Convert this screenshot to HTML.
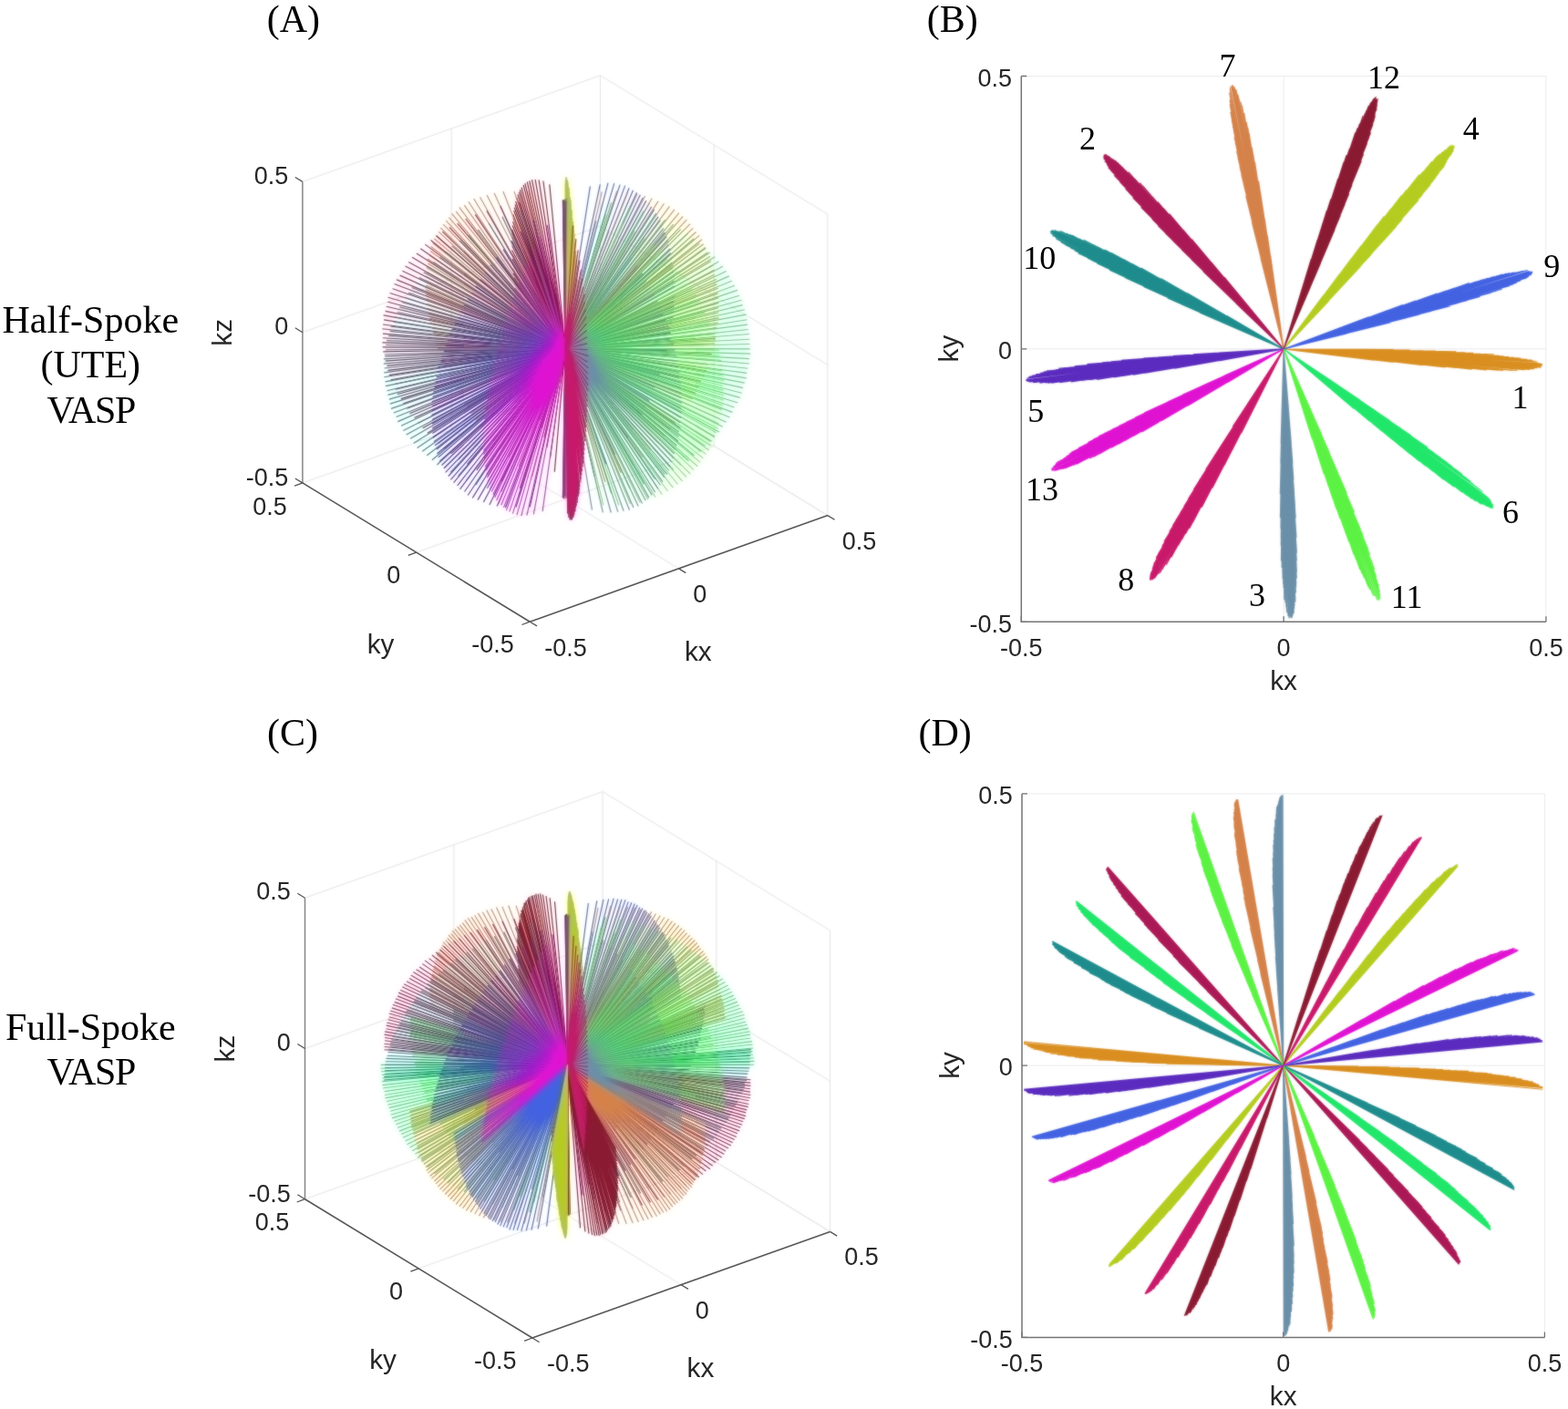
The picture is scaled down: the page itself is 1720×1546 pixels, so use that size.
<!DOCTYPE html>
<html lang="en"><head><meta charset="utf-8"><title>Half-Spoke and Full-Spoke VASP k-space trajectories</title>
<style>
html,body{margin:0;padding:0;background:#fff}
svg{display:block}
text{font-family:"Liberation Sans",sans-serif;fill:#262626}
.tl{font-size:27px}
.al{font-size:29.7px}
.pl,.rl{font-family:"Liberation Serif",serif;font-size:42px;fill:#000}
.num{font-family:"Liberation Serif",serif;font-size:36px;fill:#000}
path{fill:none}
.sp3 path.grid{stroke:#e1e1e1;stroke-width:1}
.grid2{stroke:#ebecf0;stroke-width:1}
.axz{stroke:#858585;stroke-width:1.5}
.ax3{stroke:#585858;stroke-width:1.6}
.tk3{stroke:#555;stroke-width:1.3}
.ax2{stroke:#747474;stroke-width:1.5}
.tk2{stroke:#747474;stroke-width:1.3}
.sp3 path{stroke-width:1.15}
.sp2 path{stroke-width:1.1}
</style></head><body>
<svg width="1720" height="1546" viewBox="0 0 1720 1546">
<rect width="1720" height="1546" fill="#fff"/>
<defs><filter id="jpA" filterUnits="userSpaceOnUse" x="320" y="72" width="600" height="620" color-interpolation-filters="sRGB"><feGaussianBlur in="SourceGraphic" stdDeviation="3.0" result="b"/><feColorMatrix in="b" type="matrix" values="0.3505 -0.2935 -0.057 0 0.5 -0.1495 0.2065 -0.057 0 0.5 -0.1495 -0.2935 0.443 0 0.5 0 0 0 0 1" result="u"/><feGaussianBlur in="SourceGraphic" stdDeviation="0.8" result="s1"/><feComposite in="SourceGraphic" in2="s1" operator="arithmetic" k1="0" k2="0.5" k3="0.5" k4="0" result="s"/><feColorMatrix in="s" type="matrix" values="0.299 0.587 0.114 0 0 0.299 0.587 0.114 0 0 0.299 0.587 0.114 0 0 0 0 0 0 1" result="v"/><feComposite in="u" in2="v" operator="arithmetic" k1="0" k2="2" k3="1" k4="-1"/></filter><filter id="jpC" filterUnits="userSpaceOnUse" x="322.6" y="857.8" width="600" height="620" color-interpolation-filters="sRGB"><feGaussianBlur in="SourceGraphic" stdDeviation="3.0" result="b"/><feColorMatrix in="b" type="matrix" values="0.3505 -0.2935 -0.057 0 0.5 -0.1495 0.2065 -0.057 0 0.5 -0.1495 -0.2935 0.443 0 0.5 0 0 0 0 1" result="u"/><feGaussianBlur in="SourceGraphic" stdDeviation="0.8" result="s1"/><feComposite in="SourceGraphic" in2="s1" operator="arithmetic" k1="0" k2="0.5" k3="0.5" k4="0" result="s"/><feColorMatrix in="s" type="matrix" values="0.299 0.587 0.114 0 0 0.299 0.587 0.114 0 0 0.299 0.587 0.114 0 0 0 0 0 0 1" result="v"/><feComposite in="u" in2="v" operator="arithmetic" k1="0" k2="2" k3="1" k4="-1"/></filter><filter id="b2" x="-5%" y="-5%" width="110%" height="110%" color-interpolation-filters="sRGB"><feGaussianBlur stdDeviation="0.8" result="b"/><feComposite in="SourceGraphic" in2="b" operator="arithmetic" k1="0" k2="0.5" k3="0.5" k4="0"/></filter></defs>
<text class="pl" x="292.7" y="34.7">(A)</text>
<text class="pl" x="1016.8" y="34.7">(B)</text>
<text class="pl" x="292.9" y="818.4">(C)</text>
<text class="pl" x="1007.5" y="818.4">(D)</text>
<text class="rl" x="99.3" y="364.9" text-anchor="middle">Half-Spoke</text>
<text class="rl" x="99.3" y="414.4" text-anchor="middle">(UTE)</text>
<text class="rl" x="99.8" y="463.9" text-anchor="middle" letter-spacing="-1.3">VASP</text>
<text class="rl" x="99.3" y="1140.7" text-anchor="middle">Full-Spoke</text>
<text class="rl" x="99.8" y="1190.2" text-anchor="middle" letter-spacing="-1.3">VASP</text>
<g class="sp3" filter="url(#jpA)">
<rect x="310" y="62" width="620" height="640" fill="#fff"/>
<path class="grid" d="M331.9,529.9L658.5,413.3M658.5,413.3L907.9,565.6M331.9,364.7L658.5,248.1M658.5,248.1L907.9,400.4M331.9,199.4L658.5,82.8M658.5,82.8L907.9,235.1M495.2,471.6L495.2,141.1M744.6,623.9L495.2,471.6M658.5,413.3L658.5,82.8M907.9,565.6L658.5,413.3M783.2,489.5L783.2,159M907.9,565.6L907.9,235.1M456.6,606.1L783.2,489.5"/>
<path stroke="#B4CC1F" d="M619.9,382.5l0,-164.2M619.9,382.5l0.2,-181.6M619.9,382.5l0.5,-185.4M619.9,382.5l0.9,-187.9M619.9,382.5l1.1,-188.1M619.9,382.5l1.5,-188.3M619.9,382.5l1.6,-188M619.9,382.5l1.9,-185.8M619.9,382.5l2.7,-184.8M619.9,382.5l3.2,-182.5M619.9,382.5l3.3,-180M619.9,382.5l3.8,-177.5M619.9,382.5l4.4,-175.9M619.9,382.5l4.7,-172.2M619.9,382.5l4.8,-169.8M619.9,382.5l5.7,-166M619.9,382.5l6.2,-163M619.9,382.5l6.5,-159.4M619.9,382.5l6.7,-155.1M619.9,382.5l7.6,-151.9M619.9,382.5l7.5,-147.3M619.9,382.5l8,-143.3M619.9,382.5l8.9,-139.6M619.9,382.5l9.5,-135.1M619.9,382.5l9.7,-130.4M619.9,382.5l10.4,-126.2M619.9,382.5l10.5,-121.6M619.9,382.5l11.3,-116.8M619.9,382.5l11,-112.3M619.9,382.5l11.9,-107.3M619.9,382.5l12.3,-102.3M619.9,382.5l12.9,-96.8M619.9,382.5l12.8,-91.9M619.9,382.5l13.8,-86.9M619.9,382.5l13.6,-81.1M619.9,382.5l14,-75.9M619.9,382.5l14.4,-70.3M619.9,382.5l15.1,-64.6M619.9,382.5l14.9,-58.7M619.9,382.5l15.3,-53M619.9,382.5l15,-46.8M619.9,382.5l15.3,-40.8M619.9,382.5l15.7,-34.5M619.9,382.5l16.1,-28.3M619.9,382.5l16.5,-21.9M619.9,382.5l16,-15.4M619.9,382.5l16.2,-8.6M619.9,382.5l16.3,-1.8M619.9,382.5l16.2,5.1M619.9,382.5l16.4,12.3M619.9,382.5l16,19.6M619.9,382.5l15.9,27M619.9,382.5l15.8,34.6M619.9,382.5l15.2,42.5M619.9,382.5l14.8,50.6M619.9,382.5l14.6,58.9M619.9,382.5l14.1,67.8M619.9,382.5l13.3,76.8M619.9,382.5l12.1,86.1M619.9,382.5l11.4,96.7M619.9,382.5l10.2,107.9M619.9,382.5l8.3,120M619.9,382.5l6.2,134.3M619.9,382.5l0.3,161.7"/>
<path stroke="#8A1A32" d="M619.9,382.5l-0.9,-163.8M619.9,382.5l-17.1,-180.2M619.9,382.5l-24,-184M619.9,382.5l-28.8,-185.2M619.9,382.5l-32.8,-185.7M619.9,382.5l-36.4,-185.4M619.9,382.5l-39.1,-184.1M619.9,382.5l-41.6,-183.1M619.9,382.5l-44,-181.3M619.9,382.5l-45.8,-179.7M619.9,382.5l-47.9,-176.9M619.9,382.5l-49.4,-174.3M619.9,382.5l-50.6,-171.8M619.9,382.5l-51.9,-169.1M619.9,382.5l-53.1,-165.8M619.9,382.5l-54.3,-161.6M619.9,382.5l-54.9,-158.1M619.9,382.5l-55.6,-154.8M619.9,382.5l-56.2,-151.4M619.9,382.5l-57.2,-147.4M619.9,382.5l-56.9,-143.3M619.9,382.5l-57.4,-139.2M619.9,382.5l-57.7,-135.1M619.9,382.5l-58.3,-130.8M619.9,382.5l-58.4,-127M619.9,382.5l-58.2,-122.2M619.9,382.5l-58.1,-117.4M619.9,382.5l-58.2,-112.7M619.9,382.5l-58.4,-108.1M619.9,382.5l-58,-103.2M619.9,382.5l-57.8,-98.4M619.9,382.5l-57.7,-93.1M619.9,382.5l-57.8,-88.3M619.9,382.5l-56.8,-82.7M619.9,382.5l-56,-77.6M619.9,382.5l-55.7,-72.6M619.9,382.5l-55.3,-66.7M619.9,382.5l-54.7,-61.3M619.9,382.5l-53.6,-55.4M619.9,382.5l-53,-49.7M619.9,382.5l-52,-43.8M619.9,382.5l-51.8,-37.8M619.9,382.5l-50.4,-31.6M619.9,382.5l-49.4,-25.6M619.9,382.5l-48.6,-19.2M619.9,382.5l-47.2,-12.7M619.9,382.5l-46.5,-6.1M619.9,382.5l-44.8,0.6M619.9,382.5l-43.7,7.5M619.9,382.5l-42.2,14.4M619.9,382.5l-41.3,21.7M619.9,382.5l-39.4,29M619.9,382.5l-37.6,36.5M619.9,382.5l-36.2,44.3M619.9,382.5l-34.8,52.5M619.9,382.5l-32.5,60.4M619.9,382.5l-30.4,69.2M619.9,382.5l-28.2,78.1M619.9,382.5l-25.8,87.7M619.9,382.5l-22.9,97.3M619.9,382.5l-20.1,108.7M619.9,382.5l-16.4,120.2M619.9,382.5l-11.6,135.3M619.9,382.5l-0.6,162"/>
<path stroke="#4262E2" d="M619.9,382.5l1.4,-164.7M619.9,382.5l27.5,-178.2M619.9,382.5l38.4,-180.2M619.9,382.5l47.1,-181.9M619.9,382.5l53.9,-181.3M619.9,382.5l60.2,-179.9M619.9,382.5l65.8,-178.9M619.9,382.5l70.2,-176.3M619.9,382.5l74.6,-173.7M619.9,382.5l78.6,-171.3M619.9,382.5l82.4,-168.8M619.9,382.5l85.4,-165.6M619.9,382.5l89,-162.4M619.9,382.5l92.4,-159.7M619.9,382.5l94.8,-155.8M619.9,382.5l97.7,-152.6M619.9,382.5l99.8,-148.3M619.9,382.5l102.1,-144.6M619.9,382.5l104.3,-140.9M619.9,382.5l106,-136.2M619.9,382.5l108,-132M619.9,382.5l109.4,-127.3M619.9,382.5l111.4,-123.1M619.9,382.5l112.8,-118.8M619.9,382.5l113.7,-114M619.9,382.5l115.2,-109.6M619.9,382.5l115.9,-104.8M619.9,382.5l117.4,-99.7M619.9,382.5l117.5,-94.3M619.9,382.5l118.3,-89.3M619.9,382.5l119,-84.5M619.9,382.5l119.8,-79.4M619.9,382.5l119.7,-74.1M619.9,382.5l120.2,-68.7M619.9,382.5l119.9,-63.1M619.9,382.5l120.2,-57.6M619.9,382.5l119.5,-52.1M619.9,382.5l119.4,-46.3M619.9,382.5l119.3,-40.7M619.9,382.5l118.8,-34.9M619.9,382.5l117.6,-29M619.9,382.5l116.4,-22.9M619.9,382.5l115.9,-16.9M619.9,382.5l114.8,-10.6M619.9,382.5l113.6,-4.3M619.9,382.5l112,2.1M619.9,382.5l109.7,8.4M619.9,382.5l108.5,15.2M619.9,382.5l106.2,21.8M619.9,382.5l103.7,28.5M619.9,382.5l101.1,35.4M619.9,382.5l98.4,42.4M619.9,382.5l95.2,49.6M619.9,382.5l92.2,57.2M619.9,382.5l88,64.4M619.9,382.5l84.6,72.6M619.9,382.5l79.9,80.6M619.9,382.5l74.7,88.9M619.9,382.5l68.8,97.3M619.9,382.5l62.3,106.6M619.9,382.5l54.5,116M619.9,382.5l44.8,126.8M619.9,382.5l32.3,140.2M619.9,382.5l1.6,162.4"/>
<path stroke="#D4824A" d="M619.9,382.5l-2,-163.6M619.9,382.5l-40.1,-173M619.9,382.5l-55.9,-172.6M619.9,382.5l-68,-172.5M619.9,382.5l-77.8,-170.7M619.9,382.5l-85.8,-168.5M619.9,382.5l-93.4,-166.2M619.9,382.5l-100.2,-164.5M619.9,382.5l-106,-161.2M619.9,382.5l-110.6,-157.3M619.9,382.5l-116.1,-155.1M619.9,382.5l-119.8,-150.7M619.9,382.5l-124.3,-148.1M619.9,382.5l-127.5,-143.9M619.9,382.5l-130.6,-140.3M619.9,382.5l-133.7,-136.4M619.9,382.5l-136.7,-132.7M619.9,382.5l-139,-128.4M619.9,382.5l-141.5,-124.3M619.9,382.5l-143.7,-120.7M619.9,382.5l-145.3,-116M619.9,382.5l-147.2,-112M619.9,382.5l-147.7,-107M619.9,382.5l-148.8,-102.5M619.9,382.5l-151,-98.4M619.9,382.5l-150.5,-93.5M619.9,382.5l-152.2,-89.1M619.9,382.5l-152.1,-84M619.9,382.5l-153,-79.2M619.9,382.5l-152.8,-74.7M619.9,382.5l-152.7,-69.5M619.9,382.5l-152.7,-64.6M619.9,382.5l-152.6,-59.6M619.9,382.5l-152.1,-54.6M619.9,382.5l-151.7,-49.2M619.9,382.5l-150.7,-43.9M619.9,382.5l-150.4,-38.8M619.9,382.5l-148.6,-33.4M619.9,382.5l-147.9,-28.1M619.9,382.5l-146.4,-22.4M619.9,382.5l-144.6,-16.9M619.9,382.5l-143.3,-11.2M619.9,382.5l-142.3,-5.4M619.9,382.5l-139.8,0.2M619.9,382.5l-137.2,6.1M619.9,382.5l-135.2,12.2M619.9,382.5l-132.5,18.2M619.9,382.5l-129.5,24.4M619.9,382.5l-126.8,30.7M619.9,382.5l-123.4,37M619.9,382.5l-120,43.6M619.9,382.5l-116.1,50.2M619.9,382.5l-111.8,56.8M619.9,382.5l-108,64M619.9,382.5l-103.3,71.2M619.9,382.5l-98.2,78.5M619.9,382.5l-92.3,86M619.9,382.5l-85.7,93.4M619.9,382.5l-79.1,101.8M619.9,382.5l-71.4,110.7M619.9,382.5l-61.8,119.2M619.9,382.5l-50.8,129.4M619.9,382.5l-36.2,141.2M619.9,382.5l-1.8,162.7"/>
<path stroke="#D98E1F" d="M619.9,382.5l2,-164.1M619.9,382.5l40.4,-172.1M619.9,382.5l56.8,-172.9M619.9,382.5l68.8,-171.5M619.9,382.5l79.1,-170.1M619.9,382.5l87.7,-167.6M619.9,382.5l95.4,-165M619.9,382.5l102.2,-161.9M619.9,382.5l108.6,-159.3M619.9,382.5l114.6,-156.1M619.9,382.5l120,-152.7M619.9,382.5l125,-148.8M619.9,382.5l129.3,-145.1M619.9,382.5l133.4,-141.4M619.9,382.5l137.2,-136.9M619.9,382.5l140.3,-132.2M619.9,382.5l143.7,-128M619.9,382.5l147.3,-124.1M619.9,382.5l150,-119.7M619.9,382.5l151.8,-114.7M619.9,382.5l154.4,-110.2M619.9,382.5l156.3,-105.5M619.9,382.5l159.1,-101.3M619.9,382.5l160.1,-96.1M619.9,382.5l162.1,-91.3M619.9,382.5l163.4,-86.2M619.9,382.5l163.9,-81.2M619.9,382.5l166.1,-76.3M619.9,382.5l166.6,-70.9M619.9,382.5l167.8,-66.3M619.9,382.5l167.7,-60.6M619.9,382.5l168.3,-55.7M619.9,382.5l168.4,-50.1M619.9,382.5l168.4,-44.7M619.9,382.5l168.3,-39.5M619.9,382.5l168.7,-33.9M619.9,382.5l168,-28.5M619.9,382.5l166.5,-22.9M619.9,382.5l166.3,-17.3M619.9,382.5l165,-11.4M619.9,382.5l164,-5.7M619.9,382.5l162.7,0.3M619.9,382.5l160.7,5.9M619.9,382.5l159.6,12M619.9,382.5l157.3,17.8M619.9,382.5l155.3,24.2M619.9,382.5l152.2,30.2M619.9,382.5l148.9,36.1M619.9,382.5l146.3,42.6M619.9,382.5l143.1,48.9M619.9,382.5l139.5,55.3M619.9,382.5l135.9,62M619.9,382.5l131.1,68.3M619.9,382.5l126.5,75.2M619.9,382.5l120.8,81.7M619.9,382.5l115.5,88.9M619.9,382.5l108.9,95.8M619.9,382.5l101.9,103.3M619.9,382.5l94,110.8M619.9,382.5l85,118.9M619.9,382.5l74.4,127.2M619.9,382.5l61.4,136.3M619.9,382.5l43.9,146.5M619.9,382.5l2.2,162.7"/>
<path stroke="#AA1955" d="M619.9,382.5l-2.5,-162.8M619.9,382.5l-50.6,-160.6M619.9,382.5l-71,-156.4M619.9,382.5l-86,-151.3M619.9,382.5l-98.6,-147.1M619.9,382.5l-109.2,-142.5M619.9,382.5l-118.1,-137.3M619.9,382.5l-127,-133.2M619.9,382.5l-134.6,-128.4M619.9,382.5l-141.4,-123.8M619.9,382.5l-147.4,-119M619.9,382.5l-153.6,-114.4M619.9,382.5l-158.7,-109.8M619.9,382.5l-163,-104.5M619.9,382.5l-167.9,-100.2M619.9,382.5l-171.7,-95.1M619.9,382.5l-175.4,-90.4M619.9,382.5l-178.5,-85.3M619.9,382.5l-181.3,-80.4M619.9,382.5l-184.9,-75.6M619.9,382.5l-187.4,-71M619.9,382.5l-189.3,-65.7M619.9,382.5l-192.3,-61M619.9,382.5l-194.3,-56.3M619.9,382.5l-194.6,-51.2M619.9,382.5l-196.2,-46.3M619.9,382.5l-197.3,-41.1M619.9,382.5l-199.3,-36.6M619.9,382.5l-198.9,-31.6M619.9,382.5l-199.9,-26.5M619.9,382.5l-200.6,-21.8M619.9,382.5l-200,-16.4M619.9,382.5l-200,-11.7M619.9,382.5l-200.5,-6.6M619.9,382.5l-200.3,-1.6M619.9,382.5l-199.7,3.4M619.9,382.5l-197.7,8.5M619.9,382.5l-197.2,13.6M619.9,382.5l-195.4,18.9M619.9,382.5l-194.5,23.9M619.9,382.5l-193.1,29.1M619.9,382.5l-191.2,34.2M619.9,382.5l-188.4,39.3M619.9,382.5l-186.2,44.6M619.9,382.5l-183.9,50M619.9,382.5l-180.1,55.1M619.9,382.5l-177.6,60.3M619.9,382.5l-173.5,65.6M619.9,382.5l-170.5,71.3M619.9,382.5l-165.4,76M619.9,382.5l-161.8,81.9M619.9,382.5l-156.3,87.2M619.9,382.5l-151,92.7M619.9,382.5l-145.6,98.3M619.9,382.5l-139,103.7M619.9,382.5l-132.9,109.8M619.9,382.5l-125.1,115.4M619.9,382.5l-117,121.5M619.9,382.5l-107.3,126.8M619.9,382.5l-97.1,133.4M619.9,382.5l-84.4,139.2M619.9,382.5l-69.5,145.8M619.9,382.5l-49.6,153.1M619.9,382.5l-2.5,163.4"/>
<path stroke="#20E66A" d="M619.9,382.5l2.6,-163.7M619.9,382.5l50.7,-160.4M619.9,382.5l71.2,-156.1M619.9,382.5l86.3,-151M619.9,382.5l98.7,-146.1M619.9,382.5l109.6,-141.4M619.9,382.5l118.9,-136.4M619.9,382.5l126.8,-130.8M619.9,382.5l134.6,-126.1M619.9,382.5l141.4,-120.7M619.9,382.5l147.6,-115.6M619.9,382.5l154.1,-111.1M619.9,382.5l158.9,-105.6M619.9,382.5l164.3,-100.7M619.9,382.5l168.5,-95.4M619.9,382.5l173.1,-90.3M619.9,382.5l176.8,-85.1M619.9,382.5l180,-79.6M619.9,382.5l182.9,-74.2M619.9,382.5l186.1,-69.2M619.9,382.5l189.1,-64.1M619.9,382.5l191.3,-58.3M619.9,382.5l193.7,-53.2M619.9,382.5l194.8,-47.9M619.9,382.5l197,-42.7M619.9,382.5l198.6,-37.4M619.9,382.5l199.7,-31.7M619.9,382.5l200.1,-26.4M619.9,382.5l200.9,-21M619.9,382.5l202.1,-16M619.9,382.5l202.4,-10.3M619.9,382.5l202.5,-5M619.9,382.5l202.8,0.3M619.9,382.5l203.3,5.6M619.9,382.5l202.1,11.1M619.9,382.5l202.2,16.5M619.9,382.5l200.4,21.7M619.9,382.5l199.3,26.9M619.9,382.5l198.8,32.4M619.9,382.5l196.9,37.6M619.9,382.5l195.2,43.1M619.9,382.5l193.9,48.8M619.9,382.5l191.9,53.9M619.9,382.5l189.3,59.5M619.9,382.5l185.6,64.5M619.9,382.5l183.5,69.9M619.9,382.5l180.7,75.5M619.9,382.5l176.8,80.7M619.9,382.5l172.8,85.8M619.9,382.5l169.1,91.5M619.9,382.5l164.4,96.7M619.9,382.5l159.6,102.1M619.9,382.5l153.8,106.9M619.9,382.5l148.8,112.7M619.9,382.5l141.6,117.3M619.9,382.5l135.5,123.2M619.9,382.5l127.2,127.8M619.9,382.5l118.9,133.1M619.9,382.5l109.4,138.1M619.9,382.5l98.8,143.4M619.9,382.5l86.5,148.9M619.9,382.5l71,153.6M619.9,382.5l50.7,158.9M619.9,382.5l2.6,163.1"/>
<path stroke="#1E8C8C" d="M619.9,382.5l-2.5,-162.9M619.9,382.5l-49.1,-152M619.9,382.5l-69,-144.7M619.9,382.5l-83.8,-137.8M619.9,382.5l-95.6,-130.6M619.9,382.5l-106.1,-124.4M619.9,382.5l-115.6,-118.5M619.9,382.5l-124,-112.6M619.9,382.5l-131.1,-106.4M619.9,382.5l-137.5,-100.3M619.9,382.5l-144.5,-95.1M619.9,382.5l-150,-89.4M619.9,382.5l-155.2,-83.7M619.9,382.5l-160.1,-78.1M619.9,382.5l-163.9,-72.3M619.9,382.5l-168.2,-67M619.9,382.5l-171.8,-61.3M619.9,382.5l-175.2,-56M619.9,382.5l-179.2,-51M619.9,382.5l-181.7,-45.6M619.9,382.5l-184,-40M619.9,382.5l-187,-34.8M619.9,382.5l-188.2,-29.4M619.9,382.5l-191.3,-24.4M619.9,382.5l-192.4,-19.1M619.9,382.5l-193.7,-14.1M619.9,382.5l-195.8,-8.9M619.9,382.5l-196.6,-4M619.9,382.5l-196.9,1.2M619.9,382.5l-198,6.5M619.9,382.5l-199,11.4M619.9,382.5l-199.1,16.6M619.9,382.5l-198.3,21.5M619.9,382.5l-198.6,26.4M619.9,382.5l-198.6,31.3M619.9,382.5l-197.4,36.4M619.9,382.5l-197,41.1M619.9,382.5l-195.5,46.2M619.9,382.5l-194.5,50.9M619.9,382.5l-193.1,55.6M619.9,382.5l-192.1,60.6M619.9,382.5l-190.9,65.9M619.9,382.5l-188.2,70.5M619.9,382.5l-185.3,75M619.9,382.5l-183.6,80.1M619.9,382.5l-179.9,84.7M619.9,382.5l-177.6,89.9M619.9,382.5l-174.3,94.4M619.9,382.5l-169.8,98.8M619.9,382.5l-166.1,103.8M619.9,382.5l-162.3,108.9M619.9,382.5l-156.7,112.8M619.9,382.5l-151.6,117.3M619.9,382.5l-146,122.2M619.9,382.5l-140.6,127.5M619.9,382.5l-133.1,131.3M619.9,382.5l-125.8,135.8M619.9,382.5l-117.4,140.1M619.9,382.5l-108.4,144.8M619.9,382.5l-97.9,149.5M619.9,382.5l-85.5,153.4M619.9,382.5l-70.2,157.1M619.9,382.5l-50.2,161.2M619.9,382.5l-2.5,163.7"/>
<path stroke="#5CF244" d="M619.9,382.5l2.3,-163M619.9,382.5l44.7,-146.6M619.9,382.5l62.7,-137M619.9,382.5l76.4,-129M619.9,382.5l87.4,-121M619.9,382.5l96.7,-113.2M619.9,382.5l105.1,-106M619.9,382.5l112.1,-98.6M619.9,382.5l118.7,-91.7M619.9,382.5l124.5,-84.8M619.9,382.5l129.9,-78.1M619.9,382.5l134.7,-71.5M619.9,382.5l139.8,-65.3M619.9,382.5l144,-59M619.9,382.5l147.7,-52.6M619.9,382.5l150.6,-46M619.9,382.5l153.5,-39.9M619.9,382.5l157.4,-34M619.9,382.5l159.3,-27.6M619.9,382.5l161.9,-21.8M619.9,382.5l164.1,-15.7M619.9,382.5l165.2,-9.8M619.9,382.5l167.6,-4.2M619.9,382.5l168.9,1.7M619.9,382.5l169.7,7.5M619.9,382.5l171,12.9M619.9,382.5l172.8,18.7M619.9,382.5l172.3,24.4M619.9,382.5l173.8,29.8M619.9,382.5l174.4,35.2M619.9,382.5l173.2,40.7M619.9,382.5l173.5,45.9M619.9,382.5l174.4,51.5M619.9,382.5l174,56.7M619.9,382.5l173.1,62.3M619.9,382.5l172,67.1M619.9,382.5l170.8,71.9M619.9,382.5l169.7,77M619.9,382.5l168.8,82.6M619.9,382.5l167.7,87.7M619.9,382.5l165.9,92.3M619.9,382.5l163.7,97.2M619.9,382.5l161.4,101.8M619.9,382.5l159.7,106.8M619.9,382.5l157.8,111.5M619.9,382.5l154.6,115.9M619.9,382.5l151.6,120.4M619.9,382.5l148.3,124.9M619.9,382.5l145.4,129.2M619.9,382.5l141.2,133.1M619.9,382.5l137.5,137.6M619.9,382.5l133.2,141.2M619.9,382.5l128.6,145.3M619.9,382.5l123.7,149M619.9,382.5l118.4,152.7M619.9,382.5l112.6,156.5M619.9,382.5l106.4,160.3M619.9,382.5l99,163M619.9,382.5l91,165.6M619.9,382.5l82.2,168.8M619.9,382.5l71.6,170.2M619.9,382.5l58.9,172M619.9,382.5l41.9,171.6M619.9,382.5l2.1,163.9"/>
<path stroke="#5A2BBE" d="M619.9,382.5l-1.7,-162.8M619.9,382.5l-34.5,-140.8M619.9,382.5l-48.3,-128.2M619.9,382.5l-59,-118.4M619.9,382.5l-67.8,-108.9M619.9,382.5l-75.2,-100.1M619.9,382.5l-81.9,-91.8M619.9,382.5l-87.8,-83.7M619.9,382.5l-92.8,-75.8M619.9,382.5l-98,-68.5M619.9,382.5l-102.3,-61.2M619.9,382.5l-106.6,-54.2M619.9,382.5l-111.2,-47.7M619.9,382.5l-114.9,-41M619.9,382.5l-117.4,-34.1M619.9,382.5l-121.3,-27.9M619.9,382.5l-124.1,-21.4M619.9,382.5l-126.8,-15.3M619.9,382.5l-129,-9M619.9,382.5l-131.3,-3M619.9,382.5l-133,3M619.9,382.5l-135.4,8.8M619.9,382.5l-136.4,14.6M619.9,382.5l-139.2,20.3M619.9,382.5l-140.1,26M619.9,382.5l-141,31.4M619.9,382.5l-142.4,36.9M619.9,382.5l-143.4,42.4M619.9,382.5l-144.7,47.8M619.9,382.5l-145.4,53M619.9,382.5l-146.1,58.3M619.9,382.5l-145.8,63.1M619.9,382.5l-146.3,68.5M619.9,382.5l-146.5,73.1M619.9,382.5l-145.9,77.9M619.9,382.5l-146,82.7M619.9,382.5l-145.7,87.4M619.9,382.5l-145.5,92.9M619.9,382.5l-144.6,97.1M619.9,382.5l-144,102.1M619.9,382.5l-142.8,106.2M619.9,382.5l-141,110.5M619.9,382.5l-140.4,115.2M619.9,382.5l-139.1,119.4M619.9,382.5l-137.6,123.7M619.9,382.5l-135.4,128M619.9,382.5l-132.7,131.4M619.9,382.5l-131.3,135.9M619.9,382.5l-128.1,140M619.9,382.5l-125.5,143.9M619.9,382.5l-122.3,147.2M619.9,382.5l-118.2,150.3M619.9,382.5l-115.4,154.4M619.9,382.5l-110.4,157M619.9,382.5l-106.7,161M619.9,382.5l-101.6,163.9M619.9,382.5l-95.9,166.1M619.9,382.5l-89.5,168.5M619.9,382.5l-83,171.4M619.9,382.5l-74.7,172.9M619.9,382.5l-65.5,174.5M619.9,382.5l-53.9,174.1M619.9,382.5l-38.6,173.8M619.9,382.5l-1.9,164"/>
<path stroke="#6A8FA8" d="M619.9,382.5l1.7,-162.2M619.9,382.5l33.9,-140.1M619.9,382.5l47.7,-128.3M619.9,382.5l57.9,-117.9M619.9,382.5l65.8,-107.7M619.9,382.5l73.1,-99.3M619.9,382.5l79.1,-90.6M619.9,382.5l84.8,-82.6M619.9,382.5l89.2,-74.4M619.9,382.5l94.1,-67.1M619.9,382.5l97.9,-59.5M619.9,382.5l101.4,-52.1M619.9,382.5l104.9,-45.1M619.9,382.5l107.3,-37.9M619.9,382.5l110,-31.1M619.9,382.5l112.9,-24.4M619.9,382.5l115.1,-17.8M619.9,382.5l116.6,-11.2M619.9,382.5l119,-4.8M619.9,382.5l120.3,1.6M619.9,382.5l122,7.8M619.9,382.5l122.9,13.8M619.9,382.5l124.1,20M619.9,382.5l125.4,26M619.9,382.5l125.3,31.9M619.9,382.5l127,37.7M619.9,382.5l126.9,43.2M619.9,382.5l127.2,48.8M619.9,382.5l127.6,54.5M619.9,382.5l128.1,60.1M619.9,382.5l127.3,65.5M619.9,382.5l127.7,70.8M619.9,382.5l127.1,75.9M619.9,382.5l126.3,81.3M619.9,382.5l126.5,87M619.9,382.5l125,91.5M619.9,382.5l124.8,96.9M619.9,382.5l124.2,101.8M619.9,382.5l122.5,106.5M619.9,382.5l121.4,111.2M619.9,382.5l119.9,115.5M619.9,382.5l119.2,120.6M619.9,382.5l117,124.7M619.9,382.5l115.1,129.5M619.9,382.5l114.1,134M619.9,382.5l112,138.2M619.9,382.5l109.2,141.7M619.9,382.5l107.1,146.1M619.9,382.5l104.6,150M619.9,382.5l102,153.9M619.9,382.5l98.8,157.6M619.9,382.5l95.3,160.9M619.9,382.5l92,163.6M619.9,382.5l88.3,166.8M619.9,382.5l84.6,169.9M619.9,382.5l80.3,172.9M619.9,382.5l75,174.4M619.9,382.5l70.6,177.3M619.9,382.5l64.3,178.3M619.9,382.5l58,179.4M619.9,382.5l50.4,180M619.9,382.5l41.5,179.9M619.9,382.5l29.6,177.1M619.9,382.5l1.5,163.9"/>
<path stroke="#E012D2" d="M619.9,382.5l-1,-161.7M619.9,382.5l-19.6,-135.7M619.9,382.5l-27.8,-122.5M619.9,382.5l-33.6,-110.2M619.9,382.5l-38.9,-99.9M619.9,382.5l-43.3,-90.5M619.9,382.5l-47.2,-81.2M619.9,382.5l-50.4,-72.2M619.9,382.5l-53.8,-63.7M619.9,382.5l-57,-55.9M619.9,382.5l-59.5,-47.8M619.9,382.5l-62.2,-40.4M619.9,382.5l-64.9,-33.1M619.9,382.5l-66.7,-25.8M619.9,382.5l-68.9,-18.8M619.9,382.5l-70.7,-11.8M619.9,382.5l-73.1,-5.2M619.9,382.5l-74.6,1.4M619.9,382.5l-76.2,8M619.9,382.5l-77.8,14.3M619.9,382.5l-79.4,20.6M619.9,382.5l-80.5,26.7M619.9,382.5l-81.5,32.7M619.9,382.5l-82.7,38.6M619.9,382.5l-83.9,44.4M619.9,382.5l-85.4,50.2M619.9,382.5l-85.5,55.6M619.9,382.5l-86.5,61.4M619.9,382.5l-87.8,66.8M619.9,382.5l-87.4,72.1M619.9,382.5l-88.5,77.6M619.9,382.5l-89.5,82.7M619.9,382.5l-89.4,87.9M619.9,382.5l-89.5,92.9M619.9,382.5l-89.8,98M619.9,382.5l-89.4,102.2M619.9,382.5l-89.7,107.4M619.9,382.5l-89.4,111.8M619.9,382.5l-89.5,116.2M619.9,382.5l-89.1,120.7M619.9,382.5l-88.6,125.6M619.9,382.5l-87.8,129.9M619.9,382.5l-86.8,133.7M619.9,382.5l-86.2,138M619.9,382.5l-85.5,141.7M619.9,382.5l-85,146.4M619.9,382.5l-83,149.4M619.9,382.5l-82.4,153.9M619.9,382.5l-80.6,157M619.9,382.5l-79,160.2M619.9,382.5l-77.1,163.3M619.9,382.5l-75.3,166.8M619.9,382.5l-73.1,170M619.9,382.5l-70.1,171.8M619.9,382.5l-67.4,174.4M619.9,382.5l-64.6,177.6M619.9,382.5l-61.1,178.9M619.9,382.5l-57.5,181.1M619.9,382.5l-53,182.7M619.9,382.5l-48.1,183.5M619.9,382.5l-42,183M619.9,382.5l-34.6,181.8M619.9,382.5l-24.8,178.7M619.9,382.5l-1.3,164.7"/>
<path stroke="#C8186A" d="M619.9,382.5l0.4,-162.3M619.9,382.5l8.6,-135M619.9,382.5l12,-120.4M619.9,382.5l14.2,-108.2M619.9,382.5l16.2,-96.9M619.9,382.5l17.6,-86.6M619.9,382.5l19.1,-77M619.9,382.5l20,-68M619.9,382.5l21.3,-59.6M619.9,382.5l21.7,-51.2M619.9,382.5l22.7,-43.1M619.9,382.5l23.4,-35.2M619.9,382.5l23.4,-27.4M619.9,382.5l23.7,-20M619.9,382.5l24.2,-12.8M619.9,382.5l24.4,-5.6M619.9,382.5l24.6,1.3M619.9,382.5l25.2,8.1M619.9,382.5l24.7,14.8M619.9,382.5l25.5,21.4M619.9,382.5l24.9,27.7M619.9,382.5l25.2,34.1M619.9,382.5l25.2,40.4M619.9,382.5l25.2,46.4M619.9,382.5l24.4,52.2M619.9,382.5l24.4,58.1M619.9,382.5l24.4,64.1M619.9,382.5l24,69.8M619.9,382.5l23.7,75.2M619.9,382.5l23.8,80.7M619.9,382.5l22.9,86.4M619.9,382.5l23,91.2M619.9,382.5l22.2,96.8M619.9,382.5l21.9,101.7M619.9,382.5l21.2,106.5M619.9,382.5l21.2,111.6M619.9,382.5l20.7,116.3M619.9,382.5l20.4,121.1M619.9,382.5l19.9,126.2M619.9,382.5l19.5,129.9M619.9,382.5l18.7,134.6M619.9,382.5l18.1,138.9M619.9,382.5l17.5,143.3M619.9,382.5l17.2,147M619.9,382.5l16.1,151.6M619.9,382.5l15.6,155M619.9,382.5l15.4,159.1M619.9,382.5l14.6,162.4M619.9,382.5l13.7,165.8M619.9,382.5l13.5,169.4M619.9,382.5l12.5,172.5M619.9,382.5l11.7,174.7M619.9,382.5l11.3,178.4M619.9,382.5l10.6,179.8M619.9,382.5l10,182.8M619.9,382.5l9.2,185.1M619.9,382.5l8.2,186.3M619.9,382.5l7.6,188.1M619.9,382.5l6.6,188M619.9,382.5l5.9,188.1M619.9,382.5l5.2,187.9M619.9,382.5l3.9,185.6M619.9,382.5l2.7,181.3M619.9,382.5l0.1,164.6"/>
</g>
<path class="axz" d="M331.9,529.9L331.9,199.4"/>
<path class="ax3" d="M581.3,682.2L907.9,565.6M581.3,682.2L331.9,529.9"/>
<path class="tk3" d="M331.9,529.9L323.8,525M331.9,364.7L323.8,359.8M331.9,199.4L323.8,194.5M581.3,682.2L572.5,685.5M456.6,606.1L447.8,609.4M331.9,529.9L323.1,533.2M581.3,682.2L589,686.9M744.6,623.9L752.3,628.6M907.9,565.6L915.6,570.3"/>
<text class="tl" x="316.2" y="201.5" text-anchor="end">0.5</text>
<text class="tl" x="316.2" y="367" text-anchor="end">0</text>
<text class="tl" x="316.2" y="533" text-anchor="end">-0.5</text>
<text class="tl" x="314.8" y="564.6" text-anchor="end">0.5</text>
<text class="tl" x="431.8" y="640.4" text-anchor="middle">0</text>
<text class="tl" x="540.6" y="716.2" text-anchor="middle">-0.5</text>
<text class="tl" x="620.6" y="719.6" text-anchor="middle">-0.5</text>
<text class="tl" x="767.7" y="661.2" text-anchor="middle">0</text>
<text class="tl" x="942.4" y="602.6" text-anchor="middle">0.5</text>
<text class="al" x="417.5" y="716.5" text-anchor="middle">ky</text>
<text class="al" x="765.8" y="725.3" text-anchor="middle">kx</text>
<text class="al" text-anchor="middle" transform="translate(254.3,364.8) rotate(-90)">kz</text>
<g class="sp3" filter="url(#jpC)">
<rect x="312.6" y="847.8" width="620" height="640" fill="#fff"/>
<path class="grid" d="M334.5,1315.7L661.1,1199.1M661.1,1199.1L910.5,1351.4M334.5,1150.5L661.1,1033.9M661.1,1033.9L910.5,1186.2M334.5,985.2L661.1,868.6M661.1,868.6L910.5,1020.9M497.8,1257.4L497.8,926.9M747.2,1409.7L497.8,1257.4M661.1,1199.1L661.1,868.6M910.5,1351.4L661.1,1199.1M785.8,1275.2L785.8,944.8M910.5,1351.4L910.5,1020.9M459.2,1391.8L785.8,1275.2"/>
<path stroke="#B4CC1F" d="M622.5,1168.3l0,-165.4M622.5,1168.3l0.5,-180.2M622.5,1168.3l0.8,-184.7M622.5,1168.3l1.1,-187.2M622.5,1168.3l1.6,-188.4M622.5,1168.3l1.7,-189.3M622.5,1168.3l2.2,-190.2M622.5,1168.3l2.4,-190.6M622.5,1168.3l2.9,-190M622.5,1168.3l3,-189.3M622.5,1168.3l3.3,-188.4M622.5,1168.3l3.7,-187.2M622.5,1168.3l4.2,-186.1M622.5,1168.3l4.5,-185M622.5,1168.3l5,-182.8M622.5,1168.3l5.3,-181.2M622.5,1168.3l5.9,-179.6M622.5,1168.3l6.2,-178M622.5,1168.3l6.7,-177M622.5,1168.3l6.9,-174.4M622.5,1168.3l7.4,-172.3M622.5,1168.3l8,-170.6M622.5,1168.3l8,-168.6M622.5,1168.3l8.7,-166.1M622.5,1168.3l9.2,-163.3M622.5,1168.3l9.1,-161.6M622.5,1168.3l9.6,-158.6M622.5,1168.3l10.4,-156M622.5,1168.3l10.4,-153.4M622.5,1168.3l11.2,-150.9M622.5,1168.3l11.7,-148.3M622.5,1168.3l11.9,-145.8M622.5,1168.3l12,-143.1M622.5,1168.3l12.4,-139.6M622.5,1168.3l12.7,-136.8M622.5,1168.3l13.3,-134.4M622.5,1168.3l13.6,-131M622.5,1168.3l14.2,-128M622.5,1168.3l14.7,-124.6M622.5,1168.3l15.4,-122.1M622.5,1168.3l15.7,-118.1M622.5,1168.3l15.9,-114.9M622.5,1168.3l15.9,-112.3M622.5,1168.3l16.4,-108.7M622.5,1168.3l16.5,-105.6M622.5,1168.3l16.8,-102.3M622.5,1168.3l17.5,-98.2M622.5,1168.3l17.5,-94.8"/>
<path stroke="#C8186A" d="M622.5,1168.3l-0.4,163.2M622.5,1168.3l-6.7,141.4M622.5,1168.3l-9.4,130.3M622.5,1168.3l-11.3,120.6M622.5,1168.3l-12.8,112.3M622.5,1168.3l-14.4,104.8M622.5,1168.3l-15.4,97.2M622.5,1168.3l-16.2,90.1M622.5,1168.3l-17,83.6M622.5,1168.3l-18,77.2M622.5,1168.3l-18.4,71.3M622.5,1168.3l-19.4,65.5M622.5,1168.3l-20,59.6M622.5,1168.3l-20.2,53.8M622.5,1168.3l-20.7,48.3M622.5,1168.3l-21.2,42.7M622.5,1168.3l-21.2,37.4M622.5,1168.3l-21.7,32.3M622.5,1168.3l-21.9,27.1M622.5,1168.3l-21.7,22M622.5,1168.3l-22.2,17M622.5,1168.3l-21.9,12.1M622.5,1168.3l-22.3,7.3M622.5,1168.3l-22.3,2.6M622.5,1168.3l-22.4,-2.1M622.5,1168.3l-22.5,-6.7M622.5,1168.3l-22.4,-11.2M622.5,1168.3l-22.2,-15.7M622.5,1168.3l-22.4,-20.2M622.5,1168.3l-22.3,-24.5M622.5,1168.3l-21.8,-28.9M622.5,1168.3l-21.6,-33.2M622.5,1168.3l-22,-37.3M622.5,1168.3l-21.5,-41.6M622.5,1168.3l-21.3,-45.7M622.5,1168.3l-21.5,-49.7M622.5,1168.3l-20.8,-53.6M622.5,1168.3l-20.8,-57.6M622.5,1168.3l-20.4,-61.4M622.5,1168.3l-20.3,-65.5M622.5,1168.3l-19.6,-69.3M622.5,1168.3l-19.5,-73.3M622.5,1168.3l-19.4,-76.7M622.5,1168.3l-18.8,-80.7M622.5,1168.3l-18.9,-84.2M622.5,1168.3l-18.4,-87.8M622.5,1168.3l-18.5,-91.2M622.5,1168.3l-18.2,-94.8"/>
<path stroke="#8A1A32" d="M622.5,1168.3l-0.9,-165.3M622.5,1168.3l-14,-179.1M622.5,1168.3l-19.4,-183.2M622.5,1168.3l-23.5,-185.3M622.5,1168.3l-27.1,-186.7M622.5,1168.3l-29.9,-187.9M622.5,1168.3l-32.3,-187.4M622.5,1168.3l-34.7,-187.7M622.5,1168.3l-36.3,-186.3M622.5,1168.3l-38.4,-186M622.5,1168.3l-39.8,-185.2M622.5,1168.3l-41.9,-184.5M622.5,1168.3l-43.1,-183.2M622.5,1168.3l-43.9,-181.4M622.5,1168.3l-45.6,-180.1M622.5,1168.3l-46.6,-178.3M622.5,1168.3l-47.7,-177.1M622.5,1168.3l-48.1,-174.9M622.5,1168.3l-49.3,-172.9M622.5,1168.3l-49.8,-170.4M622.5,1168.3l-50.7,-169.1M622.5,1168.3l-51.3,-166.2M622.5,1168.3l-51.5,-164.6M622.5,1168.3l-52.7,-162.7M622.5,1168.3l-52.7,-159.5M622.5,1168.3l-53,-157M622.5,1168.3l-53.6,-155.2M622.5,1168.3l-53.8,-152.6M622.5,1168.3l-54,-149.4M622.5,1168.3l-54.4,-146.8M622.5,1168.3l-54.7,-144.5M622.5,1168.3l-54.9,-142.2M622.5,1168.3l-55.2,-138.9M622.5,1168.3l-55.3,-136.5M622.5,1168.3l-55.2,-133.7M622.5,1168.3l-55.4,-130.4M622.5,1168.3l-55.1,-128M622.5,1168.3l-55.2,-124.8M622.5,1168.3l-55.1,-121.9M622.5,1168.3l-54.6,-118.2M622.5,1168.3l-54.3,-115.3M622.5,1168.3l-54.3,-112.1M622.5,1168.3l-54.3,-109.1M622.5,1168.3l-54.1,-105.6M622.5,1168.3l-54,-102M622.5,1168.3l-53.2,-98.8M622.5,1168.3l-53.3,-95.3M622.5,1168.3l-53.1,-92.2"/>
<path stroke="#E012D2" d="M622.5,1168.3l1,163.1M622.5,1168.3l16.5,143.2M622.5,1168.3l23.4,132M622.5,1168.3l28.6,123.4M622.5,1168.3l32.8,114.7M622.5,1168.3l36.6,107.5M622.5,1168.3l39.9,100.6M622.5,1168.3l43.2,94.1M622.5,1168.3l45.7,87.4M622.5,1168.3l48.8,81.3M622.5,1168.3l51,75.5M622.5,1168.3l53.8,70M622.5,1168.3l56,64.4M622.5,1168.3l57.8,58.7M622.5,1168.3l59.9,53.4M622.5,1168.3l62.1,48.3M622.5,1168.3l63.7,43.2M622.5,1168.3l65.6,38.2M622.5,1168.3l67.4,33.2M622.5,1168.3l68.7,28.3M622.5,1168.3l70.3,23.5M622.5,1168.3l72,18.9M622.5,1168.3l73.1,14.2M622.5,1168.3l74.6,9.6M622.5,1168.3l76.2,5.2M622.5,1168.3l77.2,0.8M622.5,1168.3l78.8,-3.7M622.5,1168.3l79.6,-8M622.5,1168.3l81,-12.3M622.5,1168.3l82.4,-16.4M622.5,1168.3l83.3,-20.7M622.5,1168.3l83.8,-24.8M622.5,1168.3l84.7,-28.9M622.5,1168.3l86.3,-32.8M622.5,1168.3l86.8,-36.7M622.5,1168.3l88.1,-40.8M622.5,1168.3l88.4,-44.7M622.5,1168.3l89.2,-48.5M622.5,1168.3l89.8,-52.5M622.5,1168.3l90.7,-56M622.5,1168.3l91,-60M622.5,1168.3l91.8,-63.3M622.5,1168.3l92.2,-67M622.5,1168.3l92.9,-70.7M622.5,1168.3l92.7,-74.1M622.5,1168.3l93.8,-77.7M622.5,1168.3l93.8,-81.1M622.5,1168.3l93.8,-84.4"/>
<path stroke="#4262E2" d="M622.5,1168.3l1.4,-164.9M622.5,1168.3l22.9,-177.3M622.5,1168.3l32.3,-180M622.5,1168.3l39.5,-181.4M622.5,1168.3l45.2,-182M622.5,1168.3l50.7,-182.6M622.5,1168.3l55.2,-181.8M622.5,1168.3l59.5,-181.5M622.5,1168.3l63.6,-181.2M622.5,1168.3l66.8,-178.9M622.5,1168.3l70.4,-178.1M622.5,1168.3l73.8,-176.8M622.5,1168.3l76.7,-175.3M622.5,1168.3l79.4,-172.7M622.5,1168.3l82.4,-171.7M622.5,1168.3l84.7,-169.6M622.5,1168.3l87.3,-167.6M622.5,1168.3l89.4,-165.7M622.5,1168.3l91.8,-163.6M622.5,1168.3l93.9,-161M622.5,1168.3l95.9,-158.4M622.5,1168.3l97.7,-155.5M622.5,1168.3l99.2,-153.4M622.5,1168.3l101.2,-150.6M622.5,1168.3l103.3,-148.3M622.5,1168.3l104.6,-145.4M622.5,1168.3l106.3,-143.3M622.5,1168.3l107.6,-139.8M622.5,1168.3l108.9,-137.3M622.5,1168.3l110.8,-134.9M622.5,1168.3l111.1,-131.2M622.5,1168.3l113.1,-129M622.5,1168.3l113.7,-125.2M622.5,1168.3l114.8,-122.6M622.5,1168.3l116.5,-119.6M622.5,1168.3l116.7,-116.1M622.5,1168.3l118.1,-113.3M622.5,1168.3l118.5,-109.8M622.5,1168.3l119.8,-106.5M622.5,1168.3l120.4,-103.8M622.5,1168.3l121.3,-100.2M622.5,1168.3l121.8,-96.9M622.5,1168.3l122,-93.1M622.5,1168.3l122.6,-89.7M622.5,1168.3l123,-86.5M622.5,1168.3l123.6,-82.9M622.5,1168.3l123.9,-79.5M622.5,1168.3l124.5,-76"/>
<path stroke="#6A8FA8" d="M622.5,1168.3l-1.7,163.6M622.5,1168.3l-27.8,145.9M622.5,1168.3l-39.2,136.6M622.5,1168.3l-47.7,128.8M622.5,1168.3l-54.8,121.9M622.5,1168.3l-60.7,115M622.5,1168.3l-65.9,108.3M622.5,1168.3l-70.8,102.5M622.5,1168.3l-74.8,96.1M622.5,1168.3l-79,90.6M622.5,1168.3l-82.6,85.1M622.5,1168.3l-85.7,79.5M622.5,1168.3l-89.3,74.4M622.5,1168.3l-92.1,69.2M622.5,1168.3l-94.5,63.7M622.5,1168.3l-97.4,59M622.5,1168.3l-99.4,53.8M622.5,1168.3l-101.8,49M622.5,1168.3l-104.1,44.3M622.5,1168.3l-105.4,39.3M622.5,1168.3l-107.4,34.6M622.5,1168.3l-109.5,30.1M622.5,1168.3l-110.5,25.3M622.5,1168.3l-112.1,20.9M622.5,1168.3l-113.5,16.4M622.5,1168.3l-115,12M622.5,1168.3l-115.7,7.5M622.5,1168.3l-117.3,3.3M622.5,1168.3l-118.1,-1M622.5,1168.3l-119.3,-5.4M622.5,1168.3l-119.8,-9.5M622.5,1168.3l-121.2,-13.8M622.5,1168.3l-121.9,-17.9M622.5,1168.3l-122.8,-21.9M622.5,1168.3l-122.6,-25.9M622.5,1168.3l-123.2,-29.9M622.5,1168.3l-123.6,-34.1M622.5,1168.3l-124.3,-38.2M622.5,1168.3l-124.4,-41.8M622.5,1168.3l-124.5,-45.7M622.5,1168.3l-125.2,-49.8M622.5,1168.3l-125.1,-53.7M622.5,1168.3l-125.2,-57.3M622.5,1168.3l-125.1,-60.9M622.5,1168.3l-125.2,-64.7M622.5,1168.3l-125,-68.5M622.5,1168.3l-124.7,-72M622.5,1168.3l-124.5,-75.7"/>
<path stroke="#5A2BBE" d="M622.5,1168.3l1.8,163.8M622.5,1168.3l28.8,146.7M622.5,1168.3l40.3,137M622.5,1168.3l49.4,129.7M622.5,1168.3l56.6,122.2M622.5,1168.3l63.4,116.2M622.5,1168.3l69.2,109.8M622.5,1168.3l74.1,103.5M622.5,1168.3l78.8,97.6M622.5,1168.3l83.7,92.7M622.5,1168.3l87.7,87.2M622.5,1168.3l91.5,81.9M622.5,1168.3l95,76.6M622.5,1168.3l98.4,71.6M622.5,1168.3l101.8,66.8M622.5,1168.3l104.7,61.9M622.5,1168.3l107.8,57.3M622.5,1168.3l110.2,52.5M622.5,1168.3l113,48M622.5,1168.3l116.1,43.7M622.5,1168.3l118.1,39.1M622.5,1168.3l120.2,34.6M622.5,1168.3l122.5,30.4M622.5,1168.3l124.5,26.1M622.5,1168.3l126.6,21.8M622.5,1168.3l128.9,17.7M622.5,1168.3l130.9,13.7M622.5,1168.3l132.1,9.5M622.5,1168.3l133.7,5.4M622.5,1168.3l135.3,1.5M622.5,1168.3l136.8,-2.6M622.5,1168.3l138.5,-6.4M622.5,1168.3l139.7,-10.2M622.5,1168.3l140.7,-14.1M622.5,1168.3l141.9,-17.8M622.5,1168.3l143.2,-21.8M622.5,1168.3l144.1,-25.3M622.5,1168.3l145.7,-29.2M622.5,1168.3l146.4,-33M622.5,1168.3l146.5,-36.5M622.5,1168.3l147.7,-40.1M622.5,1168.3l148.2,-43.7M622.5,1168.3l148.7,-47.1M622.5,1168.3l149,-50.6M622.5,1168.3l150.1,-54.2M622.5,1168.3l150.7,-57.7M622.5,1168.3l150,-61.2M622.5,1168.3l151.1,-64.5"/>
<path stroke="#D4824A" d="M622.5,1168.3l-2,-165.5M622.5,1168.3l-33.1,-173.5M622.5,1168.3l-46.4,-174.9M622.5,1168.3l-56.4,-174.7M622.5,1168.3l-64.8,-174.8M622.5,1168.3l-71.7,-173.7M622.5,1168.3l-78,-172.8M622.5,1168.3l-83.7,-171M622.5,1168.3l-88.8,-169.7M622.5,1168.3l-93.1,-167.6M622.5,1168.3l-98.1,-166.4M622.5,1168.3l-101.9,-164.1M622.5,1168.3l-105.4,-162.2M622.5,1168.3l-109.3,-161M622.5,1168.3l-112.7,-159M622.5,1168.3l-115.3,-155.9M622.5,1168.3l-118.2,-153.4M622.5,1168.3l-120.9,-151.7M622.5,1168.3l-123.5,-149M622.5,1168.3l-126.3,-147.1M622.5,1168.3l-127.9,-143.9M622.5,1168.3l-130.6,-142.4M622.5,1168.3l-131.8,-139M622.5,1168.3l-133.8,-136.6M622.5,1168.3l-136.5,-134.6M622.5,1168.3l-137.5,-131.5M622.5,1168.3l-138.8,-129M622.5,1168.3l-140.8,-126.4M622.5,1168.3l-142,-123.5M622.5,1168.3l-143.2,-120.8M622.5,1168.3l-144,-117.4M622.5,1168.3l-145.2,-114.4M622.5,1168.3l-145.5,-111.4M622.5,1168.3l-146.4,-108.5M622.5,1168.3l-147.3,-105.3M622.5,1168.3l-148.1,-102.8M622.5,1168.3l-148.3,-99.5M622.5,1168.3l-149.2,-96.8M622.5,1168.3l-150.3,-93.8M622.5,1168.3l-150.5,-90.4M622.5,1168.3l-151.2,-87.4M622.5,1168.3l-151.1,-84M622.5,1168.3l-151.4,-81.2M622.5,1168.3l-150.9,-77.4M622.5,1168.3l-151.1,-74.2M622.5,1168.3l-151.4,-71.2M622.5,1168.3l-151.1,-67.7M622.5,1168.3l-150.7,-64.4"/>
<path stroke="#D98E1F" d="M622.5,1168.3l2.1,-165.2M622.5,1168.3l33.6,-172.4M622.5,1168.3l47.4,-174.3M622.5,1168.3l57.9,-174.2M622.5,1168.3l66.2,-173.2M622.5,1168.3l73.8,-172.5M622.5,1168.3l80.4,-170.5M622.5,1168.3l86.4,-169.5M622.5,1168.3l92.3,-168.1M622.5,1168.3l97,-165.8M622.5,1168.3l101.7,-163.7M622.5,1168.3l106.5,-161.8M622.5,1168.3l111.1,-160.1M622.5,1168.3l115,-157.6M622.5,1168.3l118.5,-155.5M622.5,1168.3l122.3,-153M622.5,1168.3l125.4,-149.9M622.5,1168.3l128.6,-147.7M622.5,1168.3l131.1,-144.7M622.5,1168.3l134.3,-142.2M622.5,1168.3l137,-139.1M622.5,1168.3l139.9,-136.8M622.5,1168.3l142.3,-133.8M622.5,1168.3l144.5,-130.6M622.5,1168.3l146.2,-127.7M622.5,1168.3l149.1,-124.8M622.5,1168.3l151,-122.2M622.5,1168.3l153.1,-118.8M622.5,1168.3l154.8,-115.9M622.5,1168.3l155.7,-112.2M622.5,1168.3l157.6,-109.1M622.5,1168.3l159.8,-106.4M622.5,1168.3l160.6,-102.9M622.5,1168.3l162.6,-99.8M622.5,1168.3l163.7,-96.7M622.5,1168.3l164.8,-93M622.5,1168.3l165.1,-89.5M622.5,1168.3l165.9,-86.2M622.5,1168.3l167.9,-83.1M622.5,1168.3l168.2,-79.3M622.5,1168.3l168.9,-76.1M622.5,1168.3l169.5,-72.4M622.5,1168.3l170.9,-69.1M622.5,1168.3l171.5,-65.8M622.5,1168.3l172,-62.1M622.5,1168.3l172.2,-58.8M622.5,1168.3l172.3,-55.2M622.5,1168.3l173.1,-51.3"/>
<path stroke="#5CF244" d="M622.5,1168.3l-2.3,163.2M622.5,1168.3l-36.9,151.3M622.5,1168.3l-52.1,144.7M622.5,1168.3l-63.1,137.7M622.5,1168.3l-72.6,132.2M622.5,1168.3l-80.5,126.3M622.5,1168.3l-87.8,121.2M622.5,1168.3l-94.3,116.1M622.5,1168.3l-99.5,110.4M622.5,1168.3l-105,105.5M622.5,1168.3l-110,100.8M622.5,1168.3l-114.8,96.1M622.5,1168.3l-118.8,91.2M622.5,1168.3l-123.4,87M622.5,1168.3l-126.5,82M622.5,1168.3l-130.3,77.6M622.5,1168.3l-133.9,73.2M622.5,1168.3l-136.8,68.7M622.5,1168.3l-139.9,64.4M622.5,1168.3l-142.9,60.1M622.5,1168.3l-144.7,55.5M622.5,1168.3l-146.9,51M622.5,1168.3l-150.1,47.1M622.5,1168.3l-151.3,42.5M622.5,1168.3l-154.4,38.8M622.5,1168.3l-156.4,34.6M622.5,1168.3l-157.3,30.1M622.5,1168.3l-159.1,26.1M622.5,1168.3l-160.8,22M622.5,1168.3l-162,17.8M622.5,1168.3l-163.5,13.8M622.5,1168.3l-165,10.1M622.5,1168.3l-166.2,6M622.5,1168.3l-166.5,1.9M622.5,1168.3l-167.9,-2M622.5,1168.3l-169.2,-5.8M622.5,1168.3l-170.2,-9.7M622.5,1168.3l-169.9,-13.6M622.5,1168.3l-170.6,-17.5M622.5,1168.3l-171.7,-21.3M622.5,1168.3l-172.1,-25.3M622.5,1168.3l-172.2,-29.1M622.5,1168.3l-172.5,-32.7M622.5,1168.3l-172,-36.2M622.5,1168.3l-172.6,-40M622.5,1168.3l-172.6,-44M622.5,1168.3l-172.6,-47.5M622.5,1168.3l-172.3,-50.9"/>
<path stroke="#1E8C8C" d="M622.5,1168.3l2.5,164.1M622.5,1168.3l40.7,156.4M622.5,1168.3l57.2,150.8M622.5,1168.3l69.8,145.9M622.5,1168.3l80.2,141.2M622.5,1168.3l89.3,137M622.5,1168.3l97,132.1M622.5,1168.3l104.1,127.8M622.5,1168.3l110.5,123.4M622.5,1168.3l117,119.8M622.5,1168.3l122.9,115.9M622.5,1168.3l127.7,111.4M622.5,1168.3l133.1,107.9M622.5,1168.3l136.9,103.4M622.5,1168.3l141.4,99.7M622.5,1168.3l145.3,95.7M622.5,1168.3l150,92.4M622.5,1168.3l153.7,88.7M622.5,1168.3l156.3,84.5M622.5,1168.3l160.6,81.3M622.5,1168.3l163.8,77.5M622.5,1168.3l166.2,73.7M622.5,1168.3l168.5,69.9M622.5,1168.3l171.3,66.2M622.5,1168.3l174.7,63.1M622.5,1168.3l176.8,59.3M622.5,1168.3l178.4,55.3M622.5,1168.3l181.6,52.3M622.5,1168.3l182.5,48.4M622.5,1168.3l184.5,44.7M622.5,1168.3l186.5,41.3M622.5,1168.3l188.1,37.9M622.5,1168.3l190.3,34.5M622.5,1168.3l191.8,31M622.5,1168.3l193.2,27.5M622.5,1168.3l194.5,24.1M622.5,1168.3l194.6,20.6M622.5,1168.3l196.6,17.1M622.5,1168.3l196.9,13.8M622.5,1168.3l197.8,10.1M622.5,1168.3l199,6.9M622.5,1168.3l199.9,3.6M622.5,1168.3l200.2,0M622.5,1168.3l200.2,-3.2M622.5,1168.3l200.5,-6.5M622.5,1168.3l200.4,-9.9M622.5,1168.3l201.3,-13.3M622.5,1168.3l201.4,-16.7"/>
<path stroke="#AA1955" d="M622.5,1168.3l-2.6,-164M622.5,1168.3l-41.8,-162.9M622.5,1168.3l-58.6,-160.1M622.5,1168.3l-71.6,-157.6M622.5,1168.3l-82,-154.2M622.5,1168.3l-91,-151M622.5,1168.3l-99.2,-148.2M622.5,1168.3l-106.6,-145.2M622.5,1168.3l-113.3,-142.1M622.5,1168.3l-119.3,-138.9M622.5,1168.3l-124.9,-135.8M622.5,1168.3l-130.4,-132.9M622.5,1168.3l-135.9,-130.2M622.5,1168.3l-139.7,-126.4M622.5,1168.3l-144.4,-123.5M622.5,1168.3l-148.6,-120.3M622.5,1168.3l-151.9,-116.7M622.5,1168.3l-156.5,-114.4M622.5,1168.3l-159.3,-110.9M622.5,1168.3l-162.4,-107.3M622.5,1168.3l-165.9,-104.6M622.5,1168.3l-169.2,-101.8M622.5,1168.3l-171.8,-98.3M622.5,1168.3l-173.5,-94.8M622.5,1168.3l-176.5,-91.6M622.5,1168.3l-179.4,-88.6M622.5,1168.3l-181.3,-85.5M622.5,1168.3l-183.3,-82.1M622.5,1168.3l-185.4,-79.2M622.5,1168.3l-186.4,-75.4M622.5,1168.3l-188.6,-72.6M622.5,1168.3l-189.8,-68.9M622.5,1168.3l-191.7,-66M622.5,1168.3l-192.7,-62.4M622.5,1168.3l-194.4,-59.3M622.5,1168.3l-195.7,-56.3M622.5,1168.3l-195.7,-52.6M622.5,1168.3l-196.8,-49.6M622.5,1168.3l-198.2,-46.3M622.5,1168.3l-198.8,-43.2M622.5,1168.3l-199,-39.5M622.5,1168.3l-200.4,-36.4M622.5,1168.3l-201,-33.2M622.5,1168.3l-200.6,-29.8M622.5,1168.3l-200.5,-26.5M622.5,1168.3l-201,-23.1M622.5,1168.3l-200.9,-19.8M622.5,1168.3l-201,-16.5"/>
<path stroke="#20E66A" d="M622.5,1168.3l2.6,-164.2M622.5,1168.3l41.7,-162M622.5,1168.3l58.9,-159.7M622.5,1168.3l71.8,-156.6M622.5,1168.3l82.3,-153.2M622.5,1168.3l91.6,-150.1M622.5,1168.3l99.8,-146.7M622.5,1168.3l106.8,-143M622.5,1168.3l113.5,-139.5M622.5,1168.3l120.4,-136.9M622.5,1168.3l126,-133.2M622.5,1168.3l131.4,-129.7M622.5,1168.3l136.1,-125.9M622.5,1168.3l141.1,-122.8M622.5,1168.3l145.8,-119.6M622.5,1168.3l149.7,-115.8M622.5,1168.3l153.8,-112.4M622.5,1168.3l157.6,-109.1M622.5,1168.3l160.5,-105M622.5,1168.3l164.5,-101.9M622.5,1168.3l167.1,-97.9M622.5,1168.3l170.4,-94.4M622.5,1168.3l173,-90.8M622.5,1168.3l176.1,-87.4M622.5,1168.3l178,-83.6M622.5,1168.3l180.6,-80M622.5,1168.3l182.5,-76.2M622.5,1168.3l184.5,-72.8M622.5,1168.3l186.6,-69.2M622.5,1168.3l188.3,-65.5M622.5,1168.3l190.1,-62M622.5,1168.3l192.6,-58.6M622.5,1168.3l194.1,-55M622.5,1168.3l194.4,-51M622.5,1168.3l195.9,-47.3M622.5,1168.3l197.3,-44M622.5,1168.3l198.7,-40.2M622.5,1168.3l200,-36.6M622.5,1168.3l200.5,-33.2M622.5,1168.3l200.9,-29.3M622.5,1168.3l202.5,-25.7M622.5,1168.3l203.2,-22.3M622.5,1168.3l203.7,-18.3M622.5,1168.3l203.1,-14.7M622.5,1168.3l203.5,-11.1M622.5,1168.3l204.5,-7.5M622.5,1168.3l204.9,-3.9M622.5,1168.3l204.8,-0.1"/>
<path stroke="#20E66A" d="M622.5,1168.3l-2.6,164.2M622.5,1168.3l-41.7,162M622.5,1168.3l-58.9,159.7M622.5,1168.3l-71.8,156.6M622.5,1168.3l-82.3,153.2M622.5,1168.3l-91.6,150.1M622.5,1168.3l-99.8,146.7M622.5,1168.3l-106.8,143M622.5,1168.3l-113.5,139.5M622.5,1168.3l-120.4,136.9M622.5,1168.3l-126,133.2M622.5,1168.3l-131.4,129.7M622.5,1168.3l-136.1,125.9M622.5,1168.3l-141.1,122.8M622.5,1168.3l-145.8,119.6M622.5,1168.3l-149.7,115.8M622.5,1168.3l-153.8,112.4M622.5,1168.3l-157.6,109.1M622.5,1168.3l-160.5,105M622.5,1168.3l-164.5,101.9M622.5,1168.3l-167.1,97.9M622.5,1168.3l-170.4,94.4M622.5,1168.3l-173,90.8M622.5,1168.3l-176.1,87.4M622.5,1168.3l-178,83.6M622.5,1168.3l-180.6,80M622.5,1168.3l-182.5,76.2M622.5,1168.3l-184.5,72.8M622.5,1168.3l-186.6,69.2M622.5,1168.3l-188.3,65.5M622.5,1168.3l-190.1,62M622.5,1168.3l-192.6,58.6M622.5,1168.3l-194.1,55M622.5,1168.3l-194.4,51M622.5,1168.3l-195.9,47.3M622.5,1168.3l-197.3,44M622.5,1168.3l-198.7,40.2M622.5,1168.3l-200,36.6M622.5,1168.3l-200.5,33.2M622.5,1168.3l-200.9,29.3M622.5,1168.3l-202.5,25.7M622.5,1168.3l-203.2,22.3M622.5,1168.3l-203.7,18.3M622.5,1168.3l-203.1,14.7M622.5,1168.3l-203.5,11.1M622.5,1168.3l-204.5,7.5M622.5,1168.3l-204.9,3.9M622.5,1168.3l-204.8,0.1"/>
<path stroke="#AA1955" d="M622.5,1168.3l2.6,164M622.5,1168.3l41.8,162.9M622.5,1168.3l58.6,160.1M622.5,1168.3l71.6,157.6M622.5,1168.3l82,154.2M622.5,1168.3l91,151M622.5,1168.3l99.2,148.2M622.5,1168.3l106.6,145.2M622.5,1168.3l113.3,142.1M622.5,1168.3l119.3,138.9M622.5,1168.3l124.9,135.8M622.5,1168.3l130.4,132.9M622.5,1168.3l135.9,130.2M622.5,1168.3l139.7,126.4M622.5,1168.3l144.4,123.5M622.5,1168.3l148.6,120.3M622.5,1168.3l151.9,116.7M622.5,1168.3l156.5,114.4M622.5,1168.3l159.3,110.9M622.5,1168.3l162.4,107.3M622.5,1168.3l165.9,104.6M622.5,1168.3l169.2,101.8M622.5,1168.3l171.8,98.3M622.5,1168.3l173.5,94.8M622.5,1168.3l176.5,91.6M622.5,1168.3l179.4,88.6M622.5,1168.3l181.3,85.5M622.5,1168.3l183.3,82.1M622.5,1168.3l185.4,79.2M622.5,1168.3l186.4,75.4M622.5,1168.3l188.6,72.6M622.5,1168.3l189.8,68.9M622.5,1168.3l191.7,66M622.5,1168.3l192.7,62.4M622.5,1168.3l194.4,59.3M622.5,1168.3l195.7,56.3M622.5,1168.3l195.7,52.6M622.5,1168.3l196.8,49.6M622.5,1168.3l198.2,46.3M622.5,1168.3l198.8,43.2M622.5,1168.3l199,39.5M622.5,1168.3l200.4,36.4M622.5,1168.3l201,33.2M622.5,1168.3l200.6,29.8M622.5,1168.3l200.5,26.5M622.5,1168.3l201,23.1M622.5,1168.3l200.9,19.8M622.5,1168.3l201,16.5"/>
<path stroke="#1E8C8C" d="M622.5,1168.3l-2.5,-164.1M622.5,1168.3l-40.7,-156.4M622.5,1168.3l-57.2,-150.8M622.5,1168.3l-69.8,-145.9M622.5,1168.3l-80.2,-141.2M622.5,1168.3l-89.3,-137M622.5,1168.3l-97,-132.1M622.5,1168.3l-104.1,-127.8M622.5,1168.3l-110.5,-123.4M622.5,1168.3l-117,-119.8M622.5,1168.3l-122.9,-115.9M622.5,1168.3l-127.7,-111.4M622.5,1168.3l-133.1,-107.9M622.5,1168.3l-136.9,-103.4M622.5,1168.3l-141.4,-99.7M622.5,1168.3l-145.3,-95.7M622.5,1168.3l-150,-92.4M622.5,1168.3l-153.7,-88.7M622.5,1168.3l-156.3,-84.5M622.5,1168.3l-160.6,-81.3M622.5,1168.3l-163.8,-77.5M622.5,1168.3l-166.2,-73.7M622.5,1168.3l-168.5,-69.9M622.5,1168.3l-171.3,-66.2M622.5,1168.3l-174.7,-63.1M622.5,1168.3l-176.8,-59.3M622.5,1168.3l-178.4,-55.3M622.5,1168.3l-181.6,-52.3M622.5,1168.3l-182.5,-48.4M622.5,1168.3l-184.5,-44.7M622.5,1168.3l-186.5,-41.3M622.5,1168.3l-188.1,-37.9M622.5,1168.3l-190.3,-34.5M622.5,1168.3l-191.8,-31M622.5,1168.3l-193.2,-27.5M622.5,1168.3l-194.5,-24.1M622.5,1168.3l-194.6,-20.6M622.5,1168.3l-196.6,-17.1M622.5,1168.3l-196.9,-13.8M622.5,1168.3l-197.8,-10.1M622.5,1168.3l-199,-6.9M622.5,1168.3l-199.9,-3.6M622.5,1168.3l-200.2,0M622.5,1168.3l-200.2,3.2M622.5,1168.3l-200.5,6.5M622.5,1168.3l-200.4,9.9M622.5,1168.3l-201.3,13.3M622.5,1168.3l-201.4,16.7"/>
<path stroke="#5CF244" d="M622.5,1168.3l2.3,-163.2M622.5,1168.3l36.9,-151.3M622.5,1168.3l52.1,-144.7M622.5,1168.3l63.1,-137.7M622.5,1168.3l72.6,-132.2M622.5,1168.3l80.5,-126.3M622.5,1168.3l87.8,-121.2M622.5,1168.3l94.3,-116.1M622.5,1168.3l99.5,-110.4M622.5,1168.3l105,-105.5M622.5,1168.3l110,-100.8M622.5,1168.3l114.8,-96.1M622.5,1168.3l118.8,-91.2M622.5,1168.3l123.4,-87M622.5,1168.3l126.5,-82M622.5,1168.3l130.3,-77.6M622.5,1168.3l133.9,-73.2M622.5,1168.3l136.8,-68.7M622.5,1168.3l139.9,-64.4M622.5,1168.3l142.9,-60.1M622.5,1168.3l144.7,-55.5M622.5,1168.3l146.9,-51M622.5,1168.3l150.1,-47.1M622.5,1168.3l151.3,-42.5M622.5,1168.3l154.4,-38.8M622.5,1168.3l156.4,-34.6M622.5,1168.3l157.3,-30.1M622.5,1168.3l159.1,-26.1M622.5,1168.3l160.8,-22M622.5,1168.3l162,-17.8M622.5,1168.3l163.5,-13.8M622.5,1168.3l165,-10.1M622.5,1168.3l166.2,-6M622.5,1168.3l166.5,-1.9M622.5,1168.3l167.9,2M622.5,1168.3l169.2,5.8M622.5,1168.3l170.2,9.7M622.5,1168.3l169.9,13.6M622.5,1168.3l170.6,17.5M622.5,1168.3l171.7,21.3M622.5,1168.3l172.1,25.3M622.5,1168.3l172.2,29.1M622.5,1168.3l172.5,32.7M622.5,1168.3l172,36.2M622.5,1168.3l172.6,40M622.5,1168.3l172.6,44M622.5,1168.3l172.6,47.5M622.5,1168.3l172.3,50.9"/>
<path stroke="#D98E1F" d="M622.5,1168.3l-2.1,165.2M622.5,1168.3l-33.6,172.4M622.5,1168.3l-47.4,174.3M622.5,1168.3l-57.9,174.2M622.5,1168.3l-66.2,173.2M622.5,1168.3l-73.8,172.5M622.5,1168.3l-80.4,170.5M622.5,1168.3l-86.4,169.5M622.5,1168.3l-92.3,168.1M622.5,1168.3l-97,165.8M622.5,1168.3l-101.7,163.7M622.5,1168.3l-106.5,161.8M622.5,1168.3l-111.1,160.1M622.5,1168.3l-115,157.6M622.5,1168.3l-118.5,155.5M622.5,1168.3l-122.3,153M622.5,1168.3l-125.4,149.9M622.5,1168.3l-128.6,147.7M622.5,1168.3l-131.1,144.7M622.5,1168.3l-134.3,142.2M622.5,1168.3l-137,139.1M622.5,1168.3l-139.9,136.8M622.5,1168.3l-142.3,133.8M622.5,1168.3l-144.5,130.6M622.5,1168.3l-146.2,127.7M622.5,1168.3l-149.1,124.8M622.5,1168.3l-151,122.2M622.5,1168.3l-153.1,118.8M622.5,1168.3l-154.8,115.9M622.5,1168.3l-155.7,112.2M622.5,1168.3l-157.6,109.1M622.5,1168.3l-159.8,106.4M622.5,1168.3l-160.6,102.9M622.5,1168.3l-162.6,99.8M622.5,1168.3l-163.7,96.7M622.5,1168.3l-164.8,93M622.5,1168.3l-165.1,89.5M622.5,1168.3l-165.9,86.2M622.5,1168.3l-167.9,83.1M622.5,1168.3l-168.2,79.3M622.5,1168.3l-168.9,76.1M622.5,1168.3l-169.5,72.4M622.5,1168.3l-170.9,69.1M622.5,1168.3l-171.5,65.8M622.5,1168.3l-172,62.1M622.5,1168.3l-172.2,58.8M622.5,1168.3l-172.3,55.2M622.5,1168.3l-173.1,51.3"/>
<path stroke="#D4824A" d="M622.5,1168.3l2,165.5M622.5,1168.3l33.1,173.5M622.5,1168.3l46.4,174.9M622.5,1168.3l56.4,174.7M622.5,1168.3l64.8,174.8M622.5,1168.3l71.7,173.7M622.5,1168.3l78,172.8M622.5,1168.3l83.7,171M622.5,1168.3l88.8,169.7M622.5,1168.3l93.1,167.6M622.5,1168.3l98.1,166.4M622.5,1168.3l101.9,164.1M622.5,1168.3l105.4,162.2M622.5,1168.3l109.3,161M622.5,1168.3l112.7,159M622.5,1168.3l115.3,155.9M622.5,1168.3l118.2,153.4M622.5,1168.3l120.9,151.7M622.5,1168.3l123.5,149M622.5,1168.3l126.3,147.1M622.5,1168.3l127.9,143.9M622.5,1168.3l130.6,142.4M622.5,1168.3l131.8,139M622.5,1168.3l133.8,136.6M622.5,1168.3l136.5,134.6M622.5,1168.3l137.5,131.5M622.5,1168.3l138.8,129M622.5,1168.3l140.8,126.4M622.5,1168.3l142,123.5M622.5,1168.3l143.2,120.8M622.5,1168.3l144,117.4M622.5,1168.3l145.2,114.4M622.5,1168.3l145.5,111.4M622.5,1168.3l146.4,108.5M622.5,1168.3l147.3,105.3M622.5,1168.3l148.1,102.8M622.5,1168.3l148.3,99.5M622.5,1168.3l149.2,96.8M622.5,1168.3l150.3,93.8M622.5,1168.3l150.5,90.4M622.5,1168.3l151.2,87.4M622.5,1168.3l151.1,84M622.5,1168.3l151.4,81.2M622.5,1168.3l150.9,77.4M622.5,1168.3l151.1,74.2M622.5,1168.3l151.4,71.2M622.5,1168.3l151.1,67.7M622.5,1168.3l150.7,64.4"/>
<path stroke="#5A2BBE" d="M622.5,1168.3l-1.8,-163.8M622.5,1168.3l-28.8,-146.7M622.5,1168.3l-40.3,-137M622.5,1168.3l-49.4,-129.7M622.5,1168.3l-56.6,-122.2M622.5,1168.3l-63.4,-116.2M622.5,1168.3l-69.2,-109.8M622.5,1168.3l-74.1,-103.5M622.5,1168.3l-78.8,-97.6M622.5,1168.3l-83.7,-92.7M622.5,1168.3l-87.7,-87.2M622.5,1168.3l-91.5,-81.9M622.5,1168.3l-95,-76.6M622.5,1168.3l-98.4,-71.6M622.5,1168.3l-101.8,-66.8M622.5,1168.3l-104.7,-61.9M622.5,1168.3l-107.8,-57.3M622.5,1168.3l-110.2,-52.5M622.5,1168.3l-113,-48M622.5,1168.3l-116.1,-43.7M622.5,1168.3l-118.1,-39.1M622.5,1168.3l-120.2,-34.6M622.5,1168.3l-122.5,-30.4M622.5,1168.3l-124.5,-26.1M622.5,1168.3l-126.6,-21.8M622.5,1168.3l-128.9,-17.7M622.5,1168.3l-130.9,-13.7M622.5,1168.3l-132.1,-9.5M622.5,1168.3l-133.7,-5.4M622.5,1168.3l-135.3,-1.5M622.5,1168.3l-136.8,2.6M622.5,1168.3l-138.5,6.4M622.5,1168.3l-139.7,10.2M622.5,1168.3l-140.7,14.1M622.5,1168.3l-141.9,17.8M622.5,1168.3l-143.2,21.8M622.5,1168.3l-144.1,25.3M622.5,1168.3l-145.7,29.2M622.5,1168.3l-146.4,33M622.5,1168.3l-146.5,36.5M622.5,1168.3l-147.7,40.1M622.5,1168.3l-148.2,43.7M622.5,1168.3l-148.7,47.1M622.5,1168.3l-149,50.6M622.5,1168.3l-150.1,54.2M622.5,1168.3l-150.7,57.7M622.5,1168.3l-150,61.2M622.5,1168.3l-151.1,64.5"/>
<path stroke="#6A8FA8" d="M622.5,1168.3l1.7,-163.6M622.5,1168.3l27.8,-145.9M622.5,1168.3l39.2,-136.6M622.5,1168.3l47.7,-128.8M622.5,1168.3l54.8,-121.9M622.5,1168.3l60.7,-115M622.5,1168.3l65.9,-108.3M622.5,1168.3l70.8,-102.5M622.5,1168.3l74.8,-96.1M622.5,1168.3l79,-90.6M622.5,1168.3l82.6,-85.1M622.5,1168.3l85.7,-79.5M622.5,1168.3l89.3,-74.4M622.5,1168.3l92.1,-69.2M622.5,1168.3l94.5,-63.7M622.5,1168.3l97.4,-59M622.5,1168.3l99.4,-53.8M622.5,1168.3l101.8,-49M622.5,1168.3l104.1,-44.3M622.5,1168.3l105.4,-39.3M622.5,1168.3l107.4,-34.6M622.5,1168.3l109.5,-30.1M622.5,1168.3l110.5,-25.3M622.5,1168.3l112.1,-20.9M622.5,1168.3l113.5,-16.4M622.5,1168.3l115,-12M622.5,1168.3l115.7,-7.5M622.5,1168.3l117.3,-3.3M622.5,1168.3l118.1,1M622.5,1168.3l119.3,5.4M622.5,1168.3l119.8,9.5M622.5,1168.3l121.2,13.8M622.5,1168.3l121.9,17.9M622.5,1168.3l122.8,21.9M622.5,1168.3l122.6,25.9M622.5,1168.3l123.2,29.9M622.5,1168.3l123.6,34.1M622.5,1168.3l124.3,38.2M622.5,1168.3l124.4,41.8M622.5,1168.3l124.5,45.7M622.5,1168.3l125.2,49.8M622.5,1168.3l125.1,53.7M622.5,1168.3l125.2,57.3M622.5,1168.3l125.1,60.9M622.5,1168.3l125.2,64.7M622.5,1168.3l125,68.5M622.5,1168.3l124.7,72M622.5,1168.3l124.5,75.7"/>
<path stroke="#4262E2" d="M622.5,1168.3l-1.4,164.9M622.5,1168.3l-22.9,177.3M622.5,1168.3l-32.3,180M622.5,1168.3l-39.5,181.4M622.5,1168.3l-45.2,182M622.5,1168.3l-50.7,182.6M622.5,1168.3l-55.2,181.8M622.5,1168.3l-59.5,181.5M622.5,1168.3l-63.6,181.2M622.5,1168.3l-66.8,178.9M622.5,1168.3l-70.4,178.1M622.5,1168.3l-73.8,176.8M622.5,1168.3l-76.7,175.3M622.5,1168.3l-79.4,172.7M622.5,1168.3l-82.4,171.7M622.5,1168.3l-84.7,169.6M622.5,1168.3l-87.3,167.6M622.5,1168.3l-89.4,165.7M622.5,1168.3l-91.8,163.6M622.5,1168.3l-93.9,161M622.5,1168.3l-95.9,158.4M622.5,1168.3l-97.7,155.5M622.5,1168.3l-99.2,153.4M622.5,1168.3l-101.2,150.6M622.5,1168.3l-103.3,148.3M622.5,1168.3l-104.6,145.4M622.5,1168.3l-106.3,143.3M622.5,1168.3l-107.6,139.8M622.5,1168.3l-108.9,137.3M622.5,1168.3l-110.8,134.9M622.5,1168.3l-111.1,131.2M622.5,1168.3l-113.1,129M622.5,1168.3l-113.7,125.2M622.5,1168.3l-114.8,122.6M622.5,1168.3l-116.5,119.6M622.5,1168.3l-116.7,116.1M622.5,1168.3l-118.1,113.3M622.5,1168.3l-118.5,109.8M622.5,1168.3l-119.8,106.5M622.5,1168.3l-120.4,103.8M622.5,1168.3l-121.3,100.2M622.5,1168.3l-121.8,96.9M622.5,1168.3l-122,93.1M622.5,1168.3l-122.6,89.7M622.5,1168.3l-123,86.5M622.5,1168.3l-123.6,82.9M622.5,1168.3l-123.9,79.5M622.5,1168.3l-124.5,76"/>
<path stroke="#E012D2" d="M622.5,1168.3l-1,-163.1M622.5,1168.3l-16.5,-143.2M622.5,1168.3l-23.4,-132M622.5,1168.3l-28.6,-123.4M622.5,1168.3l-32.8,-114.7M622.5,1168.3l-36.6,-107.5M622.5,1168.3l-39.9,-100.6M622.5,1168.3l-43.2,-94.1M622.5,1168.3l-45.7,-87.4M622.5,1168.3l-48.8,-81.3M622.5,1168.3l-51,-75.5M622.5,1168.3l-53.8,-70M622.5,1168.3l-56,-64.4M622.5,1168.3l-57.8,-58.7M622.5,1168.3l-59.9,-53.4M622.5,1168.3l-62.1,-48.3M622.5,1168.3l-63.7,-43.2M622.5,1168.3l-65.6,-38.2M622.5,1168.3l-67.4,-33.2M622.5,1168.3l-68.7,-28.3M622.5,1168.3l-70.3,-23.5M622.5,1168.3l-72,-18.9M622.5,1168.3l-73.1,-14.2M622.5,1168.3l-74.6,-9.6M622.5,1168.3l-76.2,-5.2M622.5,1168.3l-77.2,-0.8M622.5,1168.3l-78.8,3.7M622.5,1168.3l-79.6,8M622.5,1168.3l-81,12.3M622.5,1168.3l-82.4,16.4M622.5,1168.3l-83.3,20.7M622.5,1168.3l-83.8,24.8M622.5,1168.3l-84.7,28.9M622.5,1168.3l-86.3,32.8M622.5,1168.3l-86.8,36.7M622.5,1168.3l-88.1,40.8M622.5,1168.3l-88.4,44.7M622.5,1168.3l-89.2,48.5M622.5,1168.3l-89.8,52.5M622.5,1168.3l-90.7,56M622.5,1168.3l-91,60M622.5,1168.3l-91.8,63.3M622.5,1168.3l-92.2,67M622.5,1168.3l-92.9,70.7M622.5,1168.3l-92.7,74.1M622.5,1168.3l-93.8,77.7M622.5,1168.3l-93.8,81.1M622.5,1168.3l-93.8,84.4"/>
<path stroke="#8A1A32" d="M622.5,1168.3l0.9,165.3M622.5,1168.3l14,179.1M622.5,1168.3l19.4,183.2M622.5,1168.3l23.5,185.3M622.5,1168.3l27.1,186.7M622.5,1168.3l29.9,187.9M622.5,1168.3l32.3,187.4M622.5,1168.3l34.7,187.7M622.5,1168.3l36.3,186.3M622.5,1168.3l38.4,186M622.5,1168.3l39.8,185.2M622.5,1168.3l41.9,184.5M622.5,1168.3l43.1,183.2M622.5,1168.3l43.9,181.4M622.5,1168.3l45.6,180.1M622.5,1168.3l46.6,178.3M622.5,1168.3l47.7,177.1M622.5,1168.3l48.1,174.9M622.5,1168.3l49.3,172.9M622.5,1168.3l49.8,170.4M622.5,1168.3l50.7,169.1M622.5,1168.3l51.3,166.2M622.5,1168.3l51.5,164.6M622.5,1168.3l52.7,162.7M622.5,1168.3l52.7,159.5M622.5,1168.3l53,157M622.5,1168.3l53.6,155.2M622.5,1168.3l53.8,152.6M622.5,1168.3l54,149.4M622.5,1168.3l54.4,146.8M622.5,1168.3l54.7,144.5M622.5,1168.3l54.9,142.2M622.5,1168.3l55.2,138.9M622.5,1168.3l55.3,136.5M622.5,1168.3l55.2,133.7M622.5,1168.3l55.4,130.4M622.5,1168.3l55.1,128M622.5,1168.3l55.2,124.8M622.5,1168.3l55.1,121.9M622.5,1168.3l54.6,118.2M622.5,1168.3l54.3,115.3M622.5,1168.3l54.3,112.1M622.5,1168.3l54.3,109.1M622.5,1168.3l54.1,105.6M622.5,1168.3l54,102M622.5,1168.3l53.2,98.8M622.5,1168.3l53.3,95.3M622.5,1168.3l53.1,92.2"/>
<path stroke="#C8186A" d="M622.5,1168.3l0.4,-163.2M622.5,1168.3l6.7,-141.4M622.5,1168.3l9.4,-130.3M622.5,1168.3l11.3,-120.6M622.5,1168.3l12.8,-112.3M622.5,1168.3l14.4,-104.8M622.5,1168.3l15.4,-97.2M622.5,1168.3l16.2,-90.1M622.5,1168.3l17,-83.6M622.5,1168.3l18,-77.2M622.5,1168.3l18.4,-71.3M622.5,1168.3l19.4,-65.5M622.5,1168.3l20,-59.6M622.5,1168.3l20.2,-53.8M622.5,1168.3l20.7,-48.3M622.5,1168.3l21.2,-42.7M622.5,1168.3l21.2,-37.4M622.5,1168.3l21.7,-32.3M622.5,1168.3l21.9,-27.1M622.5,1168.3l21.7,-22M622.5,1168.3l22.2,-17M622.5,1168.3l21.9,-12.1M622.5,1168.3l22.3,-7.3M622.5,1168.3l22.3,-2.6M622.5,1168.3l22.4,2.1M622.5,1168.3l22.5,6.7M622.5,1168.3l22.4,11.2M622.5,1168.3l22.2,15.7M622.5,1168.3l22.4,20.2M622.5,1168.3l22.3,24.5M622.5,1168.3l21.8,28.9M622.5,1168.3l21.6,33.2M622.5,1168.3l22,37.3M622.5,1168.3l21.5,41.6M622.5,1168.3l21.3,45.7M622.5,1168.3l21.5,49.7M622.5,1168.3l20.8,53.6M622.5,1168.3l20.8,57.6M622.5,1168.3l20.4,61.4M622.5,1168.3l20.3,65.5M622.5,1168.3l19.6,69.3M622.5,1168.3l19.5,73.3M622.5,1168.3l19.4,76.7M622.5,1168.3l18.8,80.7M622.5,1168.3l18.9,84.2M622.5,1168.3l18.4,87.8M622.5,1168.3l18.5,91.2M622.5,1168.3l18.2,94.8"/>
<path stroke="#B4CC1F" d="M622.5,1168.3l0,165.4M622.5,1168.3l-0.5,180.2M622.5,1168.3l-0.8,184.7M622.5,1168.3l-1.1,187.2M622.5,1168.3l-1.6,188.4M622.5,1168.3l-1.7,189.3M622.5,1168.3l-2.2,190.2M622.5,1168.3l-2.4,190.6M622.5,1168.3l-2.9,190M622.5,1168.3l-3,189.3M622.5,1168.3l-3.3,188.4M622.5,1168.3l-3.7,187.2M622.5,1168.3l-4.2,186.1M622.5,1168.3l-4.5,185M622.5,1168.3l-5,182.8M622.5,1168.3l-5.3,181.2M622.5,1168.3l-5.9,179.6M622.5,1168.3l-6.2,178M622.5,1168.3l-6.7,177M622.5,1168.3l-6.9,174.4M622.5,1168.3l-7.4,172.3M622.5,1168.3l-8,170.6M622.5,1168.3l-8,168.6M622.5,1168.3l-8.7,166.1M622.5,1168.3l-9.2,163.3M622.5,1168.3l-9.1,161.6M622.5,1168.3l-9.6,158.6M622.5,1168.3l-10.4,156M622.5,1168.3l-10.4,153.4M622.5,1168.3l-11.2,150.9M622.5,1168.3l-11.7,148.3M622.5,1168.3l-11.9,145.8M622.5,1168.3l-12,143.1M622.5,1168.3l-12.4,139.6M622.5,1168.3l-12.7,136.8M622.5,1168.3l-13.3,134.4M622.5,1168.3l-13.6,131M622.5,1168.3l-14.2,128M622.5,1168.3l-14.7,124.6M622.5,1168.3l-15.4,122.1M622.5,1168.3l-15.7,118.1M622.5,1168.3l-15.9,114.9M622.5,1168.3l-15.9,112.3M622.5,1168.3l-16.4,108.7M622.5,1168.3l-16.5,105.6M622.5,1168.3l-16.8,102.3M622.5,1168.3l-17.5,98.2M622.5,1168.3l-17.5,94.8"/>
</g>
<path class="axz" d="M334.5,1315.7L334.5,985.2"/>
<path class="ax3" d="M583.9,1468L910.5,1351.4M583.9,1468L334.5,1315.7"/>
<path class="tk3" d="M334.5,1315.7L326.4,1310.8M334.5,1150.5L326.4,1145.5M334.5,985.2L326.4,980.3M583.9,1468L575.1,1471.3M459.2,1391.8L450.4,1395.1M334.5,1315.7L325.7,1319M583.9,1468L591.6,1472.7M747.2,1409.7L754.9,1414.4M910.5,1351.4L918.2,1356.1"/>
<text class="tl" x="318.8" y="987.3" text-anchor="end">0.5</text>
<text class="tl" x="318.8" y="1152.8" text-anchor="end">0</text>
<text class="tl" x="318.8" y="1318.8" text-anchor="end">-0.5</text>
<text class="tl" x="317.4" y="1350.4" text-anchor="end">0.5</text>
<text class="tl" x="434.4" y="1426.2" text-anchor="middle">0</text>
<text class="tl" x="543.2" y="1502" text-anchor="middle">-0.5</text>
<text class="tl" x="623.2" y="1505.4" text-anchor="middle">-0.5</text>
<text class="tl" x="770.3" y="1447" text-anchor="middle">0</text>
<text class="tl" x="945" y="1388.4" text-anchor="middle">0.5</text>
<text class="al" x="420.1" y="1502.3" text-anchor="middle">ky</text>
<text class="al" x="768.4" y="1511.1" text-anchor="middle">kx</text>
<text class="al" text-anchor="middle" transform="translate(256.9,1150.6) rotate(-90)">kz</text>
<path class="grid2" d="M1120.3,83.5H1695.9V682.3M1120.3,382.9H1695.9M1408.1,83.5V682.3"/>
<g class="sp2" filter="url(#b2)">
<path stroke="#D98E1F" d="M1408.1,382.9l3.6,0M1408.1,382.9l71,0.4M1408.1,382.9l99.7,0.6M1408.1,382.9l120.7,0.7M1408.1,382.9l138.5,1.2M1408.1,382.9l153.3,1.8M1408.1,382.9l166.5,2.1M1408.1,382.9l178,2.8M1408.1,382.9l189.2,2.9M1408.1,382.9l199.2,3.9M1408.1,382.9l208.2,4.5M1408.1,382.9l216.2,5.5M1408.1,382.9l223.6,5.7M1408.1,382.9l230.7,5.9M1408.1,382.9l236.5,7.3M1408.1,382.9l241.4,7.9M1408.1,382.9l247,8.6M1408.1,382.9l252.8,9.4M1408.1,382.9l257.1,9.8M1408.1,382.9l260.1,10.1M1408.1,382.9l264,11.1M1408.1,382.9l267.2,11.3M1408.1,382.9l271.5,12.1M1408.1,382.9l273,12.4M1408.1,382.9l275.7,13.5M1408.1,382.9l277.4,14.4M1408.1,382.9l278.6,14.1M1408.1,382.9l281.2,15.8M1408.1,382.9l281.6,16.5M1408.1,382.9l283.7,16.3M1408.1,382.9l282.8,17.3M1408.1,382.9l283.9,17.3M1408.1,382.9l283.3,18.3M1408.1,382.9l282.9,19M1408.1,382.9l282.7,19M1408.1,382.9l282.5,20.3M1408.1,382.9l281.4,20.1M1408.1,382.9l278.7,20.2M1408.1,382.9l277.9,20.8M1408.1,382.9l274.9,21.7M1408.1,382.9l273,21.9M1408.1,382.9l270.1,22.6M1408.1,382.9l267.1,22M1408.1,382.9l264.4,22.9M1408.1,382.9l260.8,22.5M1408.1,382.9l256.4,23.6M1408.1,382.9l251,23.5M1408.1,382.9l245.8,22.7M1408.1,382.9l240.6,23.5M1408.1,382.9l235,23.4M1408.1,382.9l229.2,22.7M1408.1,382.9l222.5,23.1M1408.1,382.9l214.9,22M1408.1,382.9l206.6,22.2M1408.1,382.9l197.5,21.1M1408.1,382.9l188.4,20.6M1408.1,382.9l177.1,20M1408.1,382.9l165.9,18.7M1408.1,382.9l152.7,17.7M1408.1,382.9l138.1,16.1M1408.1,382.9l120.5,14.5M1408.1,382.9l99.2,12.3M1408.1,382.9l70.8,8.9M1408.1,382.9l3.6,0.4"/>
<path stroke="#AA1955" d="M1408.1,382.9l-2.6,-2.5M1408.1,382.9l-52.4,-50.2M1408.1,382.9l-73.2,-70.8M1408.1,382.9l-88.7,-85.6M1408.1,382.9l-101.4,-98.5M1408.1,382.9l-112.1,-109.4M1408.1,382.9l-121.2,-118.5M1408.1,382.9l-130.2,-127.6M1408.1,382.9l-137.8,-135.4M1408.1,382.9l-144.5,-142.7M1408.1,382.9l-150.1,-149.4M1408.1,382.9l-156.5,-155.5M1408.1,382.9l-161,-161.7M1408.1,382.9l-165.5,-166M1408.1,382.9l-169.9,-171.8M1408.1,382.9l-173.5,-175.9M1408.1,382.9l-176.8,-180.2M1408.1,382.9l-179.9,-183.6M1408.1,382.9l-182.2,-187M1408.1,382.9l-186,-190.5M1408.1,382.9l-187.6,-194.3M1408.1,382.9l-189.7,-196M1408.1,382.9l-192.5,-199.3M1408.1,382.9l-193.9,-202.2M1408.1,382.9l-193.7,-203.3M1408.1,382.9l-195.1,-205.3M1408.1,382.9l-196.3,-206.3M1408.1,382.9l-197.5,-209.4M1408.1,382.9l-196.6,-209.8M1408.1,382.9l-197.6,-210.8M1408.1,382.9l-197.6,-212.5M1408.1,382.9l-197.3,-211.5M1408.1,382.9l-196.4,-212.6M1408.1,382.9l-196.8,-213.2M1408.1,382.9l-196.1,-213.6M1408.1,382.9l-195.1,-213.6M1408.1,382.9l-193,-211.8M1408.1,382.9l-192.1,-211.8M1408.1,382.9l-190.6,-209.6M1408.1,382.9l-189.1,-209.3M1408.1,382.9l-187.3,-208.3M1408.1,382.9l-185.1,-207M1408.1,382.9l-182,-204.3M1408.1,382.9l-179.7,-202.1M1408.1,382.9l-177.3,-199.9M1408.1,382.9l-173.5,-196M1408.1,382.9l-170.3,-194.3M1408.1,382.9l-166.6,-189.7M1408.1,382.9l-163.4,-186.7M1408.1,382.9l-157.7,-182.2M1408.1,382.9l-154.1,-178.5M1408.1,382.9l-149.1,-172.3M1408.1,382.9l-143.8,-166.8M1408.1,382.9l-138.1,-161.4M1408.1,382.9l-131.7,-154.3M1408.1,382.9l-125.4,-148.2M1408.1,382.9l-118.2,-139.3M1408.1,382.9l-110.3,-130.7M1408.1,382.9l-100.7,-120.3M1408.1,382.9l-91.2,-108.8M1408.1,382.9l-79.1,-94.9M1408.1,382.9l-64.9,-78.5M1408.1,382.9l-46.4,-56M1408.1,382.9l-2.3,-2.8"/>
<path stroke="#6A8FA8" d="M1408.1,382.9l0.3,3.7M1408.1,382.9l5.9,73.5M1408.1,382.9l8.2,103.4M1408.1,382.9l9.8,125.7M1408.1,382.9l10.8,143.3M1408.1,382.9l11.6,159.7M1408.1,382.9l12.4,173.2M1408.1,382.9l13.1,185.7M1408.1,382.9l13.1,196.4M1408.1,382.9l13.9,207M1408.1,382.9l13.7,216.2M1408.1,382.9l14.3,224M1408.1,382.9l14.2,232.4M1408.1,382.9l14,238.5M1408.1,382.9l14.3,244.7M1408.1,382.9l14.2,251.7M1408.1,382.9l13.7,257.8M1408.1,382.9l13.6,261.5M1408.1,382.9l13.3,267.6M1408.1,382.9l12.6,271.7M1408.1,382.9l12.8,275.5M1408.1,382.9l12.8,277.6M1408.1,382.9l11.9,281.6M1408.1,382.9l11.6,285.1M1408.1,382.9l10.7,286.3M1408.1,382.9l11.1,289.7M1408.1,382.9l10.8,290.1M1408.1,382.9l10.2,291.4M1408.1,382.9l9.7,293.1M1408.1,382.9l9.3,294.8M1408.1,382.9l8.3,294.5M1408.1,382.9l8.2,295.3M1408.1,382.9l7.8,294.5M1408.1,382.9l6.6,294.3M1408.1,382.9l5.9,295.6M1408.1,382.9l5.4,292.8M1408.1,382.9l4.9,293M1408.1,382.9l4.8,291.7M1408.1,382.9l3.5,289.3M1408.1,382.9l3.3,287M1408.1,382.9l3,283.9M1408.1,382.9l2.7,282.5M1408.1,382.9l1.9,278.4M1408.1,382.9l0.7,275.4M1408.1,382.9l1.3,272.3M1408.1,382.9l0.6,268M1408.1,382.9l0,262.1M1408.1,382.9l-0.4,257.8M1408.1,382.9l-1,252.4M1408.1,382.9l-1.2,246.6M1408.1,382.9l-2,240M1408.1,382.9l-2.7,232.5M1408.1,382.9l-2.5,224.2M1408.1,382.9l-2.9,215.9M1408.1,382.9l-2.9,207.1M1408.1,382.9l-3.2,197.3M1408.1,382.9l-3.7,185.2M1408.1,382.9l-3.3,173.9M1408.1,382.9l-3.8,159.4M1408.1,382.9l-3.3,143.8M1408.1,382.9l-3.3,125.7M1408.1,382.9l-3,103.7M1408.1,382.9l-2.1,73.8M1408.1,382.9l-0.1,3.7"/>
<path stroke="#B4CC1F" d="M1408.1,382.9l2.2,-3M1408.1,382.9l43.4,-58.5M1408.1,382.9l60.9,-81.6M1408.1,382.9l74.4,-99.3M1408.1,382.9l85.1,-113.3M1408.1,382.9l94.8,-125.5M1408.1,382.9l103.2,-136.8M1408.1,382.9l110.2,-145.5M1408.1,382.9l117.9,-154.1M1408.1,382.9l124,-161.3M1408.1,382.9l129.2,-168.2M1408.1,382.9l134.7,-174.4M1408.1,382.9l140.7,-181.1M1408.1,382.9l144.5,-185.6M1408.1,382.9l149,-191.6M1408.1,382.9l153.1,-194.9M1408.1,382.9l157.3,-199.3M1408.1,382.9l160.5,-203.1M1408.1,382.9l162.8,-205.7M1408.1,382.9l167,-209.1M1408.1,382.9l168.4,-211.5M1408.1,382.9l171,-213.8M1408.1,382.9l174.3,-216.2M1408.1,382.9l176.4,-217.6M1408.1,382.9l177.6,-218.8M1408.1,382.9l180.1,-220.3M1408.1,382.9l181.3,-221.8M1408.1,382.9l182.9,-222.1M1408.1,382.9l183.6,-223.8M1408.1,382.9l185.2,-223.6M1408.1,382.9l185.7,-223.5M1408.1,382.9l185.8,-222.3M1408.1,382.9l186.3,-223.1M1408.1,382.9l187.8,-222.8M1408.1,382.9l186.3,-221.3M1408.1,382.9l187,-221M1408.1,382.9l186.5,-219.6M1408.1,382.9l186.5,-217.9M1408.1,382.9l184.7,-215.9M1408.1,382.9l184.5,-214.6M1408.1,382.9l182.1,-212M1408.1,382.9l180.8,-209.5M1408.1,382.9l179.1,-206.2M1408.1,382.9l177.9,-203.7M1408.1,382.9l176.5,-200.9M1408.1,382.9l173.5,-197.9M1408.1,382.9l170.2,-193M1408.1,382.9l167.2,-188.7M1408.1,382.9l164.3,-184.9M1408.1,382.9l161.2,-180.4M1408.1,382.9l157.2,-175.8M1408.1,382.9l152.6,-169.7M1408.1,382.9l147.8,-163.3M1408.1,382.9l142.1,-157.2M1408.1,382.9l136.5,-150.5M1408.1,382.9l130.1,-142.2M1408.1,382.9l123.6,-134.4M1408.1,382.9l115.3,-125.2M1408.1,382.9l105.9,-115.1M1408.1,382.9l96.3,-103.9M1408.1,382.9l84.5,-90.7M1408.1,382.9l69.4,-74.6M1408.1,382.9l49.6,-52.8M1408.1,382.9l2.5,-2.7"/>
<path stroke="#5A2BBE" d="M1408.1,382.9l-3.6,0.6M1408.1,382.9l-70.1,12.7M1408.1,382.9l-98,17.5M1408.1,382.9l-119.6,21.2M1408.1,382.9l-136.9,23.7M1408.1,382.9l-151.8,26.3M1408.1,382.9l-165,28.3M1408.1,382.9l-176.4,29.5M1408.1,382.9l-186.4,31.1M1408.1,382.9l-196.1,31.7M1408.1,382.9l-204.9,33.5M1408.1,382.9l-212.7,33.9M1408.1,382.9l-221.4,34.6M1408.1,382.9l-228.3,35.2M1408.1,382.9l-233.3,36M1408.1,382.9l-240.3,36M1408.1,382.9l-245.7,36.7M1408.1,382.9l-250.4,36.6M1408.1,382.9l-254.8,37.4M1408.1,382.9l-258.8,37.3M1408.1,382.9l-261.7,37.1M1408.1,382.9l-265.6,36.7M1408.1,382.9l-267.7,37.2M1408.1,382.9l-272.2,36.6M1408.1,382.9l-273.9,36.7M1408.1,382.9l-275.2,36.5M1408.1,382.9l-277.5,36M1408.1,382.9l-279.1,36M1408.1,382.9l-281.2,35.6M1408.1,382.9l-281.9,35M1408.1,382.9l-282.8,34.6M1408.1,382.9l-281.8,33.8M1408.1,382.9l-282.8,34M1408.1,382.9l-281.9,32.3M1408.1,382.9l-280.7,32M1408.1,382.9l-280.1,31.1M1408.1,382.9l-279,30.3M1408.1,382.9l-279,30.6M1408.1,382.9l-276.3,29.4M1408.1,382.9l-275.1,29.1M1408.1,382.9l-272.1,27.8M1408.1,382.9l-268.7,27.5M1408.1,382.9l-266.9,26.5M1408.1,382.9l-263.5,25.1M1408.1,382.9l-260.2,24.2M1408.1,382.9l-256.1,23.9M1408.1,382.9l-250.5,22.8M1408.1,382.9l-247,21.3M1408.1,382.9l-241.5,21.4M1408.1,382.9l-236.1,20.4M1408.1,382.9l-229.4,18.9M1408.1,382.9l-221.8,18.3M1408.1,382.9l-215.7,16.7M1408.1,382.9l-206.5,16.2M1408.1,382.9l-199,14.9M1408.1,382.9l-189.3,13.9M1408.1,382.9l-178.1,12.4M1408.1,382.9l-166.2,11.6M1408.1,382.9l-153.8,10.2M1408.1,382.9l-138.4,9.2M1408.1,382.9l-121.2,7.7M1408.1,382.9l-99.3,5.8M1408.1,382.9l-71.1,4.1M1408.1,382.9l-3.6,0.2"/>
<path stroke="#20E66A" d="M1408.1,382.9l3,2M1408.1,382.9l60,40M1408.1,382.9l84.1,56.3M1408.1,382.9l101.7,68.5M1408.1,382.9l116.3,78.6M1408.1,382.9l128.9,87.6M1408.1,382.9l139.9,95M1408.1,382.9l148.8,101.7M1408.1,382.9l157.9,108.1M1408.1,382.9l165.3,114.4M1408.1,382.9l172.4,119.5M1408.1,382.9l179.9,125.1M1408.1,382.9l185.3,129.2M1408.1,382.9l191.2,134.1M1408.1,382.9l195.9,137.6M1408.1,382.9l200.8,142.1M1408.1,382.9l205,145.2M1408.1,382.9l208.2,148.6M1408.1,382.9l211.3,151.2M1408.1,382.9l215,154M1408.1,382.9l218.3,156.7M1408.1,382.9l219.8,159.8M1408.1,382.9l222.5,162M1408.1,382.9l223.8,162.8M1408.1,382.9l226,164.9M1408.1,382.9l227.5,166.8M1408.1,382.9l228,168.9M1408.1,382.9l228.3,169.3M1408.1,382.9l228.8,170.8M1408.1,382.9l230.3,171.5M1408.1,382.9l229.8,172.9M1408.1,382.9l229.6,173.4M1408.1,382.9l229.7,173.9M1408.1,382.9l230,174.7M1408.1,382.9l228.1,174.6M1408.1,382.9l228,174.9M1408.1,382.9l225.7,173.6M1408.1,382.9l224.6,172.7M1408.1,382.9l223.4,172.9M1408.1,382.9l221.2,171.3M1408.1,382.9l218.8,170.6M1408.1,382.9l216.7,170.4M1408.1,382.9l214.6,168.2M1408.1,382.9l210.9,167.1M1408.1,382.9l206.5,164.4M1408.1,382.9l204.3,162.3M1408.1,382.9l200.8,160.3M1408.1,382.9l196,157.4M1408.1,382.9l191.6,153.9M1408.1,382.9l187,151.3M1408.1,382.9l181.5,147.5M1408.1,382.9l175.8,143.6M1408.1,382.9l169.6,138.3M1408.1,382.9l163.7,134.2M1408.1,382.9l155.5,128.1M1408.1,382.9l148.5,122.9M1408.1,382.9l139.3,115.6M1408.1,382.9l130.1,108.3M1408.1,382.9l119.6,99.7M1408.1,382.9l107.8,90.3M1408.1,382.9l94.2,79.3M1408.1,382.9l77,65.5M1408.1,382.9l55.1,46.8M1408.1,382.9l2.8,2.4"/>
<path stroke="#D4824A" d="M1408.1,382.9l-0.9,-3.6M1408.1,382.9l-18.1,-71.7M1408.1,382.9l-25.2,-99.9M1408.1,382.9l-30.4,-121.9M1408.1,382.9l-34.8,-139.4M1408.1,382.9l-37.9,-154.4M1408.1,382.9l-41.4,-167.9M1408.1,382.9l-43.8,-180.8M1408.1,382.9l-46.3,-191.3M1408.1,382.9l-48.1,-200.1M1408.1,382.9l-50.2,-210.4M1408.1,382.9l-51.6,-217.3M1408.1,382.9l-52.9,-226.2M1408.1,382.9l-54.1,-232.4M1408.1,382.9l-54.7,-239M1408.1,382.9l-55.8,-244.9M1408.1,382.9l-56.8,-250.8M1408.1,382.9l-57.5,-255.5M1408.1,382.9l-58.3,-260.3M1408.1,382.9l-58.5,-265.5M1408.1,382.9l-59,-268.5M1408.1,382.9l-59.1,-272.9M1408.1,382.9l-58.7,-274.5M1408.1,382.9l-58.7,-277.2M1408.1,382.9l-59.6,-281.3M1408.1,382.9l-58.4,-281.9M1408.1,382.9l-58.9,-285.1M1408.1,382.9l-58.6,-285.5M1408.1,382.9l-58.8,-287.2M1408.1,382.9l-57.5,-288.5M1408.1,382.9l-57.4,-288.3M1408.1,382.9l-56.9,-289.1M1408.1,382.9l-56.4,-289.6M1408.1,382.9l-55.6,-289.4M1408.1,382.9l-55.6,-288.4M1408.1,382.9l-54.6,-287.4M1408.1,382.9l-54,-287.5M1408.1,382.9l-52.8,-284.9M1408.1,382.9l-52.1,-284.3M1408.1,382.9l-51.4,-281.4M1408.1,382.9l-50.1,-279M1408.1,382.9l-49.6,-276.5M1408.1,382.9l-49.1,-274.8M1408.1,382.9l-47.2,-271.4M1408.1,382.9l-45.7,-267.2M1408.1,382.9l-45.3,-263M1408.1,382.9l-43.4,-258.9M1408.1,382.9l-42.5,-253.1M1408.1,382.9l-40.8,-248.9M1408.1,382.9l-39.3,-242.8M1408.1,382.9l-37.9,-236.5M1408.1,382.9l-36.8,-228.6M1408.1,382.9l-34.8,-221.1M1408.1,382.9l-33.5,-213.7M1408.1,382.9l-31.6,-205M1408.1,382.9l-30,-194.9M1408.1,382.9l-27.5,-184.2M1408.1,382.9l-25.4,-171.1M1408.1,382.9l-23.4,-158M1408.1,382.9l-20.9,-142.9M1408.1,382.9l-17.8,-124.2M1408.1,382.9l-14.4,-102.4M1408.1,382.9l-10.3,-73M1408.1,382.9l-0.5,-3.7"/>
<path stroke="#C8186A" d="M1408.1,382.9l-1.7,3.3M1408.1,382.9l-33,65.7M1408.1,382.9l-46.4,92M1408.1,382.9l-56.9,111.6M1408.1,382.9l-65,127.4M1408.1,382.9l-72.3,140.8M1408.1,382.9l-78.3,152.6M1408.1,382.9l-84.5,163.2M1408.1,382.9l-90,173.8M1408.1,382.9l-95.5,182.2M1408.1,382.9l-99.7,190.3M1408.1,382.9l-103.5,197.2M1408.1,382.9l-107.6,202.9M1408.1,382.9l-111.8,209.3M1408.1,382.9l-115.5,215.4M1408.1,382.9l-118.6,220.2M1408.1,382.9l-121.2,224.2M1408.1,382.9l-123.3,228.5M1408.1,382.9l-126.6,231.9M1408.1,382.9l-128.8,236.8M1408.1,382.9l-131.1,238.4M1408.1,382.9l-133.2,241.9M1408.1,382.9l-135.4,245.1M1408.1,382.9l-136.6,246.6M1408.1,382.9l-138.5,247.4M1408.1,382.9l-139.8,249M1408.1,382.9l-141.5,251.5M1408.1,382.9l-143,252.3M1408.1,382.9l-143.5,252.4M1408.1,382.9l-143.9,253.3M1408.1,382.9l-146,253.9M1408.1,382.9l-145.2,253M1408.1,382.9l-146.8,253.4M1408.1,382.9l-146.8,252.5M1408.1,382.9l-146.9,251.1M1408.1,382.9l-146.8,250.8M1408.1,382.9l-146.4,249.2M1408.1,382.9l-146,247.8M1408.1,382.9l-146.1,246.9M1408.1,382.9l-144.4,243.6M1408.1,382.9l-144.2,241.4M1408.1,382.9l-143.3,238.7M1408.1,382.9l-142.5,236.1M1408.1,382.9l-140.4,232.5M1408.1,382.9l-140,229.5M1408.1,382.9l-137.7,225.1M1408.1,382.9l-135.6,221.8M1408.1,382.9l-133.4,216.7M1408.1,382.9l-131.2,211.5M1408.1,382.9l-128.2,207M1408.1,382.9l-125.5,200.9M1408.1,382.9l-121.7,193.9M1408.1,382.9l-118.4,188.4M1408.1,382.9l-113.5,180.1M1408.1,382.9l-109.4,172.9M1408.1,382.9l-104.7,164.6M1408.1,382.9l-99,154.7M1408.1,382.9l-92.9,144.8M1408.1,382.9l-85.5,132.4M1408.1,382.9l-77.2,119.3M1408.1,382.9l-67.5,104.5M1408.1,382.9l-56,85.5M1408.1,382.9l-40,60.9M1408.1,382.9l-2,3.1"/>
<path stroke="#4262E2" d="M1408.1,382.9l3.4,-1.3M1408.1,382.9l66.9,-25.1M1408.1,382.9l93.4,-35.1M1408.1,382.9l114.2,-42.5M1408.1,382.9l130.6,-48.5M1408.1,382.9l144.8,-52.9M1408.1,382.9l157.9,-57.2M1408.1,382.9l168.4,-60.9M1408.1,382.9l178.4,-63.9M1408.1,382.9l187.6,-66.9M1408.1,382.9l196.4,-69.6M1408.1,382.9l203.7,-72.4M1408.1,382.9l211.2,-73.9M1408.1,382.9l218.6,-76.1M1408.1,382.9l224.1,-77.7M1408.1,382.9l230.5,-79.3M1408.1,382.9l234.9,-80.5M1408.1,382.9l240,-81.8M1408.1,382.9l244.8,-83M1408.1,382.9l248.1,-83.5M1408.1,382.9l252,-84M1408.1,382.9l254.7,-84.2M1408.1,382.9l258.5,-84.7M1408.1,382.9l261.6,-85.5M1408.1,382.9l263.4,-85.7M1408.1,382.9l266.3,-86.2M1408.1,382.9l267.7,-86.5M1408.1,382.9l269.6,-85.5M1408.1,382.9l269.5,-85.1M1408.1,382.9l270.7,-84.6M1408.1,382.9l272.1,-85M1408.1,382.9l273.1,-84.5M1408.1,382.9l272.8,-84.1M1408.1,382.9l272.9,-83.1M1408.1,382.9l271.8,-82.4M1408.1,382.9l271.6,-81.4M1408.1,382.9l270.3,-81.3M1408.1,382.9l268.9,-79.6M1408.1,382.9l268.2,-78.9M1408.1,382.9l266.6,-78M1408.1,382.9l263.9,-77.2M1408.1,382.9l260.6,-75.5M1408.1,382.9l259.1,-74.7M1408.1,382.9l255.6,-72.7M1408.1,382.9l252.3,-71.1M1408.1,382.9l248.3,-69.5M1408.1,382.9l243.5,-68.2M1408.1,382.9l239.4,-65.7M1408.1,382.9l234,-63.9M1408.1,382.9l228.3,-61.9M1408.1,382.9l222.5,-60.4M1408.1,382.9l215.5,-57.5M1408.1,382.9l209,-56M1408.1,382.9l201.7,-53.4M1408.1,382.9l192.3,-50.8M1408.1,382.9l184,-47.5M1408.1,382.9l173.9,-45.1M1408.1,382.9l162.3,-41.7M1408.1,382.9l149.1,-37.9M1408.1,382.9l134.8,-34.2M1408.1,382.9l117.4,-29.2M1408.1,382.9l96.7,-24.1M1408.1,382.9l69.4,-17M1408.1,382.9l3.5,-0.9"/>
<path stroke="#1E8C8C" d="M1408.1,382.9l-3.3,-1.4M1408.1,382.9l-65.5,-28.6M1408.1,382.9l-92.2,-40M1408.1,382.9l-111.8,-49M1408.1,382.9l-127.4,-56M1408.1,382.9l-141,-62.8M1408.1,382.9l-153.6,-68.3M1408.1,382.9l-164.3,-73.8M1408.1,382.9l-173.7,-78.1M1408.1,382.9l-181.9,-82.3M1408.1,382.9l-191,-86.7M1408.1,382.9l-197.7,-90.7M1408.1,382.9l-204.6,-94M1408.1,382.9l-210.6,-97.3M1408.1,382.9l-215.5,-100M1408.1,382.9l-220.7,-103.2M1408.1,382.9l-225.5,-105.2M1408.1,382.9l-229.4,-108.2M1408.1,382.9l-234.1,-111.2M1408.1,382.9l-237.1,-113.3M1408.1,382.9l-240.2,-114.6M1408.1,382.9l-243.8,-116.8M1408.1,382.9l-245,-118.1M1408.1,382.9l-248.7,-120.4M1408.1,382.9l-250,-121.4M1408.1,382.9l-250.9,-123.3M1408.1,382.9l-253.7,-124.6M1408.1,382.9l-253.9,-126.2M1408.1,382.9l-254.1,-126.6M1408.1,382.9l-255.7,-127.2M1408.1,382.9l-256.2,-128.8M1408.1,382.9l-256.3,-128.8M1408.1,382.9l-255,-128.8M1408.1,382.9l-254.9,-129.6M1408.1,382.9l-254.3,-130.4M1408.1,382.9l-252.9,-129.5M1408.1,382.9l-251.5,-130.3M1408.1,382.9l-249.9,-129.1M1408.1,382.9l-247.8,-129.2M1408.1,382.9l-245.5,-129.3M1408.1,382.9l-243.9,-129M1408.1,382.9l-242.3,-128.1M1408.1,382.9l-238.6,-126.9M1408.1,382.9l-234.5,-125.5M1408.1,382.9l-232.1,-124.7M1408.1,382.9l-227.5,-122.1M1408.1,382.9l-224.3,-120.9M1408.1,382.9l-219.3,-119.6M1408.1,382.9l-213.6,-116.7M1408.1,382.9l-208.9,-114.3M1408.1,382.9l-203.9,-112M1408.1,382.9l-196.4,-108.8M1408.1,382.9l-189.5,-105.7M1408.1,382.9l-182.6,-101.8M1408.1,382.9l-175.7,-98.4M1408.1,382.9l-166.1,-93.3M1408.1,382.9l-156.5,-88.9M1408.1,382.9l-146,-82.9M1408.1,382.9l-134.4,-77.2M1408.1,382.9l-121.5,-69.6M1408.1,382.9l-105.7,-61.2M1408.1,382.9l-86.8,-50.2M1408.1,382.9l-61.9,-36.1M1408.1,382.9l-3.1,-1.8"/>
<path stroke="#5CF244" d="M1408.1,382.9l1.5,3.4M1408.1,382.9l29.7,66.9M1408.1,382.9l41.6,93.9M1408.1,382.9l50.5,114.6M1408.1,382.9l57.6,131.5M1408.1,382.9l63.6,145.5M1408.1,382.9l69.1,158.1M1408.1,382.9l73,169.6M1408.1,382.9l77.5,179.4M1408.1,382.9l80.6,189.2M1408.1,382.9l84.1,197.2M1408.1,382.9l87,204.8M1408.1,382.9l89.9,213.2M1408.1,382.9l92.6,219.6M1408.1,382.9l94.7,225.7M1408.1,382.9l95.7,231.2M1408.1,382.9l97.5,235.6M1408.1,382.9l99.8,241.9M1408.1,382.9l100,246.1M1408.1,382.9l101.8,250M1408.1,382.9l102.4,254.6M1408.1,382.9l102.9,256.5M1408.1,382.9l104.4,260.3M1408.1,382.9l104.5,263.2M1408.1,382.9l104.6,265M1408.1,382.9l105.6,266.7M1408.1,382.9l105.9,270.5M1408.1,382.9l104.9,270.8M1408.1,382.9l105.9,272.9M1408.1,382.9l106.1,274.1M1408.1,382.9l104.3,273.7M1408.1,382.9l104.6,274M1408.1,382.9l105,275.8M1408.1,382.9l104.3,275.5M1408.1,382.9l102.8,275.6M1408.1,382.9l102.1,273.8M1408.1,382.9l101.4,271.9M1408.1,382.9l100.2,271M1408.1,382.9l98.7,270.8M1408.1,382.9l97.8,269.5M1408.1,382.9l96.7,266.6M1408.1,382.9l94.6,264.1M1408.1,382.9l92.9,260.9M1408.1,382.9l91.7,258.4M1408.1,382.9l90.8,255.3M1408.1,382.9l88.2,251M1408.1,382.9l86.1,246.7M1408.1,382.9l83.7,242.1M1408.1,382.9l82.2,237.1M1408.1,382.9l79.4,230.9M1408.1,382.9l76.9,225.5M1408.1,382.9l74.6,218.2M1408.1,382.9l71.5,211.4M1408.1,382.9l68.6,203.5M1408.1,382.9l65.5,195M1408.1,382.9l61.9,186.1M1408.1,382.9l58.1,176.3M1408.1,382.9l53.9,164.3M1408.1,382.9l49.4,151.2M1408.1,382.9l44.2,137.1M1408.1,382.9l38.5,119.4M1408.1,382.9l31.3,98.7M1408.1,382.9l22.3,70.3M1408.1,382.9l1.1,3.6"/>
<path stroke="#8A1A32" d="M1408.1,382.9l1.1,-3.6M1408.1,382.9l21.6,-70.4M1408.1,382.9l30.2,-98.7M1408.1,382.9l37,-119.6M1408.1,382.9l42.7,-137M1408.1,382.9l47.4,-151.9M1408.1,382.9l51.8,-164.5M1408.1,382.9l56.2,-176.3M1408.1,382.9l59.6,-186.8M1408.1,382.9l63.6,-196.6M1408.1,382.9l66,-205M1408.1,382.9l69,-212.7M1408.1,382.9l72.4,-220M1408.1,382.9l75.2,-226.9M1408.1,382.9l77.5,-232.9M1408.1,382.9l78.7,-237.5M1408.1,382.9l81.1,-242.4M1408.1,382.9l83.5,-247.2M1408.1,382.9l85.8,-251.8M1408.1,382.9l87,-255.8M1408.1,382.9l89.3,-258.4M1408.1,382.9l90.8,-261.5M1408.1,382.9l92.3,-264.4M1408.1,382.9l93.4,-267.1M1408.1,382.9l95.5,-270.3M1408.1,382.9l96.5,-271.2M1408.1,382.9l97.4,-272.2M1408.1,382.9l98.1,-273.4M1408.1,382.9l99,-275M1408.1,382.9l100,-275.4M1408.1,382.9l100.7,-276M1408.1,382.9l100.6,-275.6M1408.1,382.9l101.3,-276.8M1408.1,382.9l101.6,-274.8M1408.1,382.9l102.5,-274.1M1408.1,382.9l103.4,-274.5M1408.1,382.9l102.5,-272.3M1408.1,382.9l102.8,-271.4M1408.1,382.9l102.6,-268.5M1408.1,382.9l102.3,-266.6M1408.1,382.9l102.1,-264M1408.1,382.9l101.1,-262.1M1408.1,382.9l100.4,-257.8M1408.1,382.9l100.4,-255.5M1408.1,382.9l99.3,-251.9M1408.1,382.9l97.9,-246.7M1408.1,382.9l95.9,-242.4M1408.1,382.9l95.5,-237.7M1408.1,382.9l93.6,-232.4M1408.1,382.9l91.5,-225.8M1408.1,382.9l89.4,-220.9M1408.1,382.9l87.5,-213.9M1408.1,382.9l85.2,-206.4M1408.1,382.9l81.9,-198.4M1408.1,382.9l78.8,-190.8M1408.1,382.9l75,-180.3M1408.1,382.9l71.7,-170.5M1408.1,382.9l67.1,-159M1408.1,382.9l62.2,-146.5M1408.1,382.9l56.1,-131.4M1408.1,382.9l49.3,-115.3M1408.1,382.9l40.5,-94.4M1408.1,382.9l29.1,-67.6M1408.1,382.9l1.5,-3.4"/>
<path stroke="#E012D2" d="M1408.1,382.9l-3.1,1.9M1408.1,382.9l-61.4,36.6M1408.1,382.9l-86.8,51.5M1408.1,382.9l-104.9,62.2M1408.1,382.9l-120.6,70.9M1408.1,382.9l-134.2,78.8M1408.1,382.9l-145.8,85.3M1408.1,382.9l-155.7,91.1M1408.1,382.9l-165,95.5M1408.1,382.9l-174.3,100.7M1408.1,382.9l-181.3,104.3M1408.1,382.9l-189.1,108.3M1408.1,382.9l-196.2,111.5M1408.1,382.9l-202.2,115.2M1408.1,382.9l-208.1,118M1408.1,382.9l-212.8,120.1M1408.1,382.9l-218,121.6M1408.1,382.9l-222,123.5M1408.1,382.9l-227,126.4M1408.1,382.9l-230.8,127.7M1408.1,382.9l-234.6,128.9M1408.1,382.9l-237.2,129.8M1408.1,382.9l-240,131.1M1408.1,382.9l-242.3,131.5M1408.1,382.9l-244.9,132.1M1408.1,382.9l-247.8,132.5M1408.1,382.9l-248.2,132.8M1408.1,382.9l-250.6,133.7M1408.1,382.9l-252.3,133M1408.1,382.9l-252,133.4M1408.1,382.9l-254,133.5M1408.1,382.9l-254.9,132.5M1408.1,382.9l-254.7,132.4M1408.1,382.9l-254.5,131.8M1408.1,382.9l-254.6,131.4M1408.1,382.9l-252.6,129.4M1408.1,382.9l-252.8,129M1408.1,382.9l-251.2,127.7M1408.1,382.9l-250,125.7M1408.1,382.9l-248.4,124.4M1408.1,382.9l-247,123.7M1408.1,382.9l-244.5,122.3M1408.1,382.9l-241.2,120.1M1408.1,382.9l-238.7,118.2M1408.1,382.9l-235.4,115.4M1408.1,382.9l-233.3,113.7M1408.1,382.9l-227.9,111.2M1408.1,382.9l-225.2,108.8M1408.1,382.9l-219.8,106M1408.1,382.9l-214.7,102.7M1408.1,382.9l-208.9,99.4M1408.1,382.9l-203.4,96.2M1408.1,382.9l-197,92.8M1408.1,382.9l-188.6,88.7M1408.1,382.9l-180.9,84.7M1408.1,382.9l-173.1,80.7M1408.1,382.9l-163,75.4M1408.1,382.9l-152.9,70.1M1408.1,382.9l-140.9,64.7M1408.1,382.9l-127.3,58.1M1408.1,382.9l-111,50.4M1408.1,382.9l-91.3,41.4M1408.1,382.9l-65.2,29.3M1408.1,382.9l-3.3,1.5"/>
</g>
<path class="ax2" d="M1120.3,83.5V682.3H1695.9"/>
<path class="tk2" d="M1120.3,83.5h6M1120.3,382.9h6M1120.3,682.3h6M1120.3,682.3v-6M1408.1,682.3v-6M1695.9,682.3v-6"/>
<text class="tl" x="1110.1" y="94.7" text-anchor="end">0.5</text>
<text class="tl" x="1110.1" y="394.1" text-anchor="end">0</text>
<text class="tl" x="1110.1" y="693.5" text-anchor="end">-0.5</text>
<text class="tl" x="1120.3" y="719.9" text-anchor="middle">-0.5</text>
<text class="tl" x="1408.1" y="719.9" text-anchor="middle">0</text>
<text class="tl" x="1695.9" y="719.9" text-anchor="middle">0.5</text>
<text class="al" x="1408.1" y="757.1" text-anchor="middle">kx</text>
<text class="al" text-anchor="middle" transform="translate(1050.8,382.6) rotate(-90)">ky</text>
<text class="num" x="1346.6" y="84.4" text-anchor="middle">7</text>
<text class="num" x="1518" y="96.5" text-anchor="middle">12</text>
<text class="num" x="1613.8" y="152.7" text-anchor="middle">4</text>
<text class="num" x="1193.1" y="163.7" text-anchor="middle">2</text>
<text class="num" x="1140.3" y="294.5" text-anchor="middle">10</text>
<text class="num" x="1702.2" y="303.6" text-anchor="middle">9</text>
<text class="num" x="1667.4" y="447.5" text-anchor="middle">1</text>
<text class="num" x="1136.2" y="462.6" text-anchor="middle">5</text>
<text class="num" x="1143" y="549" text-anchor="middle">13</text>
<text class="num" x="1657" y="573.6" text-anchor="middle">6</text>
<text class="num" x="1235.3" y="648.3" text-anchor="middle">8</text>
<text class="num" x="1379" y="664.5" text-anchor="middle">3</text>
<text class="num" x="1543.2" y="666.8" text-anchor="middle">11</text>
<path class="grid2" d="M1121,870.9H1694.4V1467.4M1121,1169.2H1694.4M1407.7,870.9V1467.4"/>
<g class="sp2" filter="url(#b2)">
<path stroke="#D98E1F" d="M1404.1,1169.1L1411.3,1169.2M1349.3,1168.5L1466.1,1169.8M1325.2,1168.2L1490.2,1170.1M1307.3,1167.6L1508.1,1170.7M1292.7,1167.5L1522.7,1170.8M1279.7,1167.1L1535.7,1171.2M1268.7,1166.2L1546.7,1172.1M1258,1166.3L1557.4,1172M1248.3,1165.5L1567.1,1172.8M1240.2,1165.3L1575.2,1173M1232.3,1164.8L1583.1,1173.5M1224.5,1164.1L1590.9,1174.2M1216.9,1163.5L1598.5,1174.8M1210.5,1162.8L1604.9,1175.5M1204.2,1162.9L1611.2,1175.4M1198.3,1161.9L1617.1,1176.4M1193.5,1161L1621.9,1177.3M1188,1160.9L1627.4,1177.4M1183.7,1160.7L1631.7,1177.6M1178.7,1160L1636.7,1178.3M1174.7,1159L1640.7,1179.3M1169.9,1158.6L1645.5,1179.7M1166.1,1157.9L1649.3,1180.4M1162.9,1157.1L1652.5,1181.2M1159.7,1157.3L1655.7,1181M1155.8,1155.7L1659.6,1182.6M1152.2,1156L1663.2,1182.3M1149.6,1154.5L1665.8,1183.8M1146.8,1154.5L1668.6,1183.8M1145.5,1154L1669.9,1184.3M1142.8,1153.1L1672.6,1185.2M1139.3,1152.5L1676.1,1185.8M1138.2,1152.1L1677.2,1186.2M1135.6,1151L1679.8,1187.3M1133.5,1151.2L1681.9,1187.1M1132.6,1149.8L1682.8,1188.5M1132,1149.8L1683.4,1188.5M1130.7,1149.6L1684.7,1188.7M1128.1,1148.4L1687.3,1189.9M1128,1147.9L1687.4,1190.4M1126.9,1147.7L1688.5,1190.6M1126.6,1146.8L1688.8,1191.5M1124.8,1145.9L1690.6,1192.4M1123.7,1145.8L1691.7,1192.5M1123.6,1144.9L1691.8,1193.4M1122.9,1145.2L1692.5,1193.1M1123.1,1144.8L1692.3,1193.5M1123,1143.1L1692.4,1195.2"/>
<path stroke="#AA1955" d="M1410.3,1171.7L1405.1,1166.6M1450.5,1210.8L1364.9,1127.5M1467.6,1227.8L1347.8,1110.5M1480.7,1240.9L1334.7,1097.4M1491.5,1251.2L1323.9,1087.1M1500.4,1260.4L1315,1077.9M1508.6,1269L1306.8,1069.3M1516.1,1276.6L1299.3,1061.7M1522.8,1283.3L1292.6,1055M1528.6,1289.8L1286.8,1048.5M1533.8,1296L1281.6,1042.3M1539.5,1301.6L1275.9,1036.7M1544.9,1307.3L1270.5,1031M1548.3,1311.7L1267.1,1026.6M1553,1316.7L1262.4,1021.6M1557.1,1321L1258.3,1017.3M1560.4,1324.6L1255,1013.7M1564.4,1329.9L1251,1008.4M1566.8,1333.5L1248.6,1004.8M1570.2,1336.3L1245.2,1002M1572.9,1340.7L1242.5,997.6M1575.9,1344.6L1239.5,993.7M1578.7,1347.2L1236.7,991.1M1579.7,1349.7L1235.7,988.6M1583,1352.5L1232.4,985.8M1585.7,1355.7L1229.7,982.6M1587,1358.6L1228.4,979.7M1588.9,1360.7L1226.5,977.6M1590.4,1363.8L1225,974.5M1591.5,1364.7L1223.9,973.6M1592.9,1368L1222.5,970.3M1594.3,1368.9L1221.1,969.4M1595.7,1371.6L1219.7,966.7M1596.6,1372.6L1218.8,965.7M1598.1,1374.8L1217.3,963.5M1598.8,1377.1L1216.6,961.2M1598.8,1377L1216.6,961.3M1599.1,1379L1216.3,959.3M1600.5,1380.6L1214.9,957.7M1600.3,1382.2L1215.1,956.1M1600.8,1382L1214.6,956.3M1601.9,1383.8L1213.5,954.5M1602.1,1385.1L1213.3,953.2M1601.2,1385.3L1214.2,953M1600.7,1385.7L1214.7,952.6M1601.1,1386.3L1214.3,952M1600.7,1386.8L1214.7,951.5M1600.4,1387.3L1215,951"/>
<path stroke="#6A8FA8" d="M1407.4,1165.4L1408,1172.9M1403.3,1108.6L1412.1,1229.7M1401.5,1083.9L1413.9,1254.4M1400.3,1065.2L1415.1,1273.1M1399.3,1049.4L1416.1,1288.9M1398.8,1036.1L1416.6,1302.2M1398.1,1024.5L1417.3,1313.8M1397.7,1013.4L1417.7,1324.9M1397.4,1004.4L1418,1333.9M1396.8,995.1L1418.6,1343.2M1397,986.1L1418.4,1352.2M1396.9,978.8L1418.5,1359.5M1396.1,971.3L1419.3,1367M1396.5,964.1L1418.9,1374.2M1396.2,958.7L1419.2,1379.6M1396.2,951.8L1419.2,1386.5M1396.6,946.6L1418.8,1391.7M1396.2,941.4L1419.2,1396.9M1396.7,935.2L1418.7,1403.1M1397.1,931.5L1418.3,1406.8M1396.8,927.1L1418.6,1411.2M1397.2,921.6L1418.2,1416.7M1397.8,918.3L1417.6,1420M1397.6,914.7L1417.8,1423.6M1398.1,910.9L1417.3,1427.4M1398,907.4L1417.4,1430.9M1398.7,904.8L1416.7,1433.5M1398.7,900.9L1416.7,1437.4M1398.9,898.8L1416.5,1439.5M1399.9,894.3L1415.5,1444M1399.8,893.2L1415.6,1445.1M1400.2,889.5L1415.2,1448.8M1400.7,887.2L1414.7,1451.1M1400.4,885.4L1415,1452.9M1401,884.9L1414.4,1453.4M1401.4,883.1L1414,1455.2M1402.4,880.7L1413,1457.6M1402.9,878.5L1412.5,1459.8M1402.8,878.4L1412.6,1459.9M1403.4,877.3L1412,1461M1403.8,875L1411.6,1463.3M1404.7,874L1410.7,1464.3M1404.6,873.8L1410.8,1464.5M1404.9,873.7L1410.5,1464.6M1405.4,872.9L1410,1465.4M1406.1,872.3L1409.3,1466M1406.5,872.5L1408.9,1465.8M1407,872.3L1408.4,1466"/>
<path stroke="#B4CC1F" d="M1405.5,1172.1L1409.9,1166.2M1371.7,1217L1443.7,1121.3M1357,1236.4L1458.4,1101.9M1345.7,1250.9L1469.7,1087.4M1336.3,1262.7L1479.1,1075.6M1328.3,1273.2L1487.1,1065.1M1320.6,1282.5L1494.8,1055.8M1313.9,1291.2L1501.5,1047.1M1307.7,1298.4L1507.7,1039.9M1302.4,1305.5L1513,1032.8M1297.2,1311.7L1518.2,1026.6M1292.3,1317.4L1523.1,1020.9M1287.5,1322.8L1527.9,1015.5M1283.1,1328.1L1532.3,1010.2M1279.3,1332L1536.1,1006.3M1275.5,1336.5L1539.9,1001.8M1271.5,1340.7L1543.9,997.6M1267.9,1344.8L1547.5,993.5M1263.8,1349.2L1551.6,989.1M1261.2,1352.2L1554.2,986.1M1258.1,1355.2L1557.3,983.1M1254.5,1358.7L1560.9,979.6M1252,1362.1L1563.4,976.2M1249.3,1364.3L1566.1,974M1246.9,1366L1568.5,972.3M1244.4,1369.8L1571,968.5M1242.6,1371.2L1572.8,967.1M1239.9,1372.8L1575.5,965.5M1238.3,1375.1L1577.1,963.2M1235.7,1376.6L1579.7,961.7M1233.6,1378.4L1581.8,959.9M1231.8,1380.5L1583.6,957.8M1230.3,1382.3L1585.1,956M1229.3,1382.5L1586.1,955.8M1227.8,1383.7L1587.6,954.6M1225.5,1385.6L1589.9,952.7M1224.8,1385.8L1590.6,952.5M1223.2,1386.5L1592.2,951.8M1222.3,1386.6L1593.1,951.7M1220.1,1387.9L1595.3,950.4M1220.3,1386.9L1595.1,951.4M1219.5,1387.5L1595.9,950.8M1218.1,1389.4L1597.3,948.9M1217.7,1388.8L1597.7,949.5M1216.9,1389.6L1598.5,948.7M1216.2,1389.9L1599.2,948.4M1216.4,1387.9L1599,950.4M1216.4,1387.9L1599,950.4"/>
<path stroke="#5A2BBE" d="M1411.3,1168.5L1404.1,1169.8M1465.5,1159.3L1349.9,1179M1488.7,1155.2L1326.7,1183.1M1506.8,1152.2L1308.6,1186.1M1521.2,1150.1L1294.2,1188.2M1534.5,1148.1L1280.9,1190.2M1545.6,1146.7L1269.8,1191.6M1555.5,1145L1259.9,1193.3M1564.4,1144.1L1251,1194.2M1574.1,1142.7L1241.3,1195.6M1581.8,1141.7L1233.6,1196.6M1589.3,1140.5L1226.1,1197.8M1595.7,1140.3L1219.7,1198M1602.4,1139.2L1213,1199.1M1608.4,1139.1L1207,1199.2M1614,1138.6L1201.4,1199.7M1620,1137.7L1195.4,1200.6M1624.5,1137.5L1190.9,1200.8M1629.3,1137.6L1186.1,1200.7M1635.2,1136.9L1180.2,1201.4M1638.7,1137L1176.7,1201.3M1642.9,1136.2L1172.5,1202.1M1646.4,1137L1169,1201.3M1650,1136.9L1165.4,1201.4M1654.3,1136L1161.1,1202.3M1658.4,1135.8L1157,1202.5M1661.4,1136.7L1154,1201.6M1663.8,1136.3L1151.6,1202M1666.5,1136.5L1148.9,1201.8M1668.8,1137L1146.6,1201.3M1671.8,1136.6L1143.6,1201.7M1674.4,1137.1L1141,1201.2M1676,1137.7L1139.4,1200.6M1677.8,1137.5L1137.6,1200.8M1679.5,1138.2L1135.9,1200.1M1682.2,1137.7L1133.2,1200.6M1683,1138.7L1132.4,1199.6M1685.7,1138.9L1129.7,1199.4M1687,1138.8L1128.4,1199.5M1686.9,1139.2L1128.5,1199.1M1688.6,1139.7L1126.8,1198.6M1689.2,1140.2L1126.2,1198.1M1689.5,1140.8L1125.9,1197.5M1689.9,1141.1L1125.5,1197.2M1691.3,1141.7L1124.1,1196.6M1692.2,1142.1L1123.2,1196.2M1691.2,1141.7L1124.2,1196.6M1692.2,1143L1123.2,1195.3"/>
<path stroke="#20E66A" d="M1404.7,1167.1L1410.7,1171.2M1358.8,1136L1456.6,1202.3M1338.7,1122.2L1476.7,1216.1M1323.7,1112L1491.7,1226.3M1311.5,1103.3L1503.9,1235M1300.7,1095.8L1514.7,1242.5M1291.4,1089L1524,1249.3M1283.2,1083.3L1532.2,1255M1275.6,1077.7L1539.8,1260.6M1267.8,1071.6L1547.6,1266.7M1261.5,1066.9L1553.9,1271.4M1255.5,1062.3L1559.9,1276M1250.3,1058L1565.1,1280.3M1244.6,1053.7L1570.8,1284.6M1239.2,1050L1576.2,1288.3M1235.1,1046.3L1580.3,1292M1230.5,1042.7L1584.9,1295.6M1226.2,1039.6L1589.2,1298.7M1223.2,1036.8L1592.2,1301.5M1218.8,1033.1L1596.6,1305.2M1216.2,1030.4L1599.2,1307.9M1212.8,1027.1L1602.6,1311.2M1210.1,1024.7L1605.3,1313.6M1206.7,1021.8L1608.7,1316.5M1204.7,1020L1610.7,1318.3M1202.1,1017.3L1613.3,1321M1200.3,1015.3L1615.1,1323M1197.8,1013.7L1617.6,1324.6M1195.8,1011.5L1619.6,1326.8M1194.1,1009.7L1621.3,1328.6M1192.3,1007.8L1623.1,1330.5M1189.9,1005.2L1625.5,1333.1M1188.3,1003.8L1627.1,1334.5M1188.2,1003.1L1627.2,1335.2M1187.1,1001L1628.3,1337.3M1185.3,1000.2L1630.1,1338.1M1184.4,998.1L1631,1340.2M1183.3,996.4L1632.1,1341.9M1182.5,996.4L1632.9,1341.9M1182.7,995.3L1632.7,1343M1181.3,993.3L1634.1,1345M1180.3,992.9L1635.1,1345.4M1180.6,991.3L1634.8,1347M1181.3,991.8L1634.1,1346.5M1181.1,991.2L1634.3,1347.1M1180.3,989.8L1635.1,1348.5M1179.9,989.4L1635.5,1348.9M1180.6,988.6L1634.8,1349.7"/>
<path stroke="#D4824A" d="M1408.6,1172.8L1406.8,1165.5M1422.4,1228.3L1393,1110M1428.1,1252.3L1387.3,1086M1432.6,1270.2L1382.8,1068.1M1436,1285.6L1379.4,1052.7M1438.6,1298.5L1376.8,1039.8M1441.2,1310.1L1374.2,1028.2M1443.9,1320.2L1371.5,1018.1M1445.6,1329.9L1369.8,1008.4M1447,1338.3L1368.4,1000M1449.4,1347L1366,991.3M1450.8,1354.1L1364.6,984.2M1451.7,1361.3L1363.7,977M1452.9,1369L1362.5,969.3M1454.1,1375.5L1361.3,962.8M1455.1,1380.3L1360.3,958M1456.3,1385.6L1359.1,952.7M1456.7,1391.6L1358.7,946.7M1457.8,1396.2L1357.6,942.1M1458.7,1401.8L1356.7,936.5M1459.1,1405.2L1356.3,933.1M1459.4,1411.1L1356,927.2M1459.6,1413.7L1355.8,924.6M1460,1417.9L1355.4,920.4M1461.2,1422.7L1354.2,915.6M1461,1425.4L1354.4,912.9M1460.8,1428.8L1354.6,909.5M1461.7,1432.4L1353.7,905.9M1461.7,1435.2L1353.7,903.1M1461.6,1438.1L1353.8,900.2M1462,1439.6L1353.4,898.7M1462.3,1442L1353.1,896.3M1461.7,1443.7L1353.7,894.6M1461.6,1446L1353.8,892.3M1462,1447.5L1353.4,890.8M1461.4,1450.3L1354,888M1461.1,1451.2L1354.3,887.1M1460.9,1453.6L1354.5,884.7M1461.4,1455.6L1354,882.7M1461.1,1456.3L1354.3,882M1461.2,1457.9L1354.2,880.4M1460.8,1458.2L1354.6,880.1M1460.1,1460L1355.3,878.3M1459.8,1459.1L1355.6,879.2M1459.5,1460L1355.9,878.3M1459,1461.3L1356.4,877M1458.7,1461L1356.7,877.3M1457.7,1461.3L1357.7,877"/>
<path stroke="#C8186A" d="M1409.4,1165.8L1406,1172.5M1435.2,1115.5L1380.2,1222.8M1446.6,1093.7L1368.8,1244.6M1455.1,1077.4L1360.3,1260.9M1462.4,1063.9L1353,1274.4M1468.6,1051.8L1346.8,1286.5M1474.1,1041.9L1341.3,1296.4M1479.3,1032.9L1336.1,1305.4M1484.2,1024.3L1331.2,1314M1488.1,1016.5L1327.3,1321.8M1493,1008.8L1322.4,1329.5M1496.6,1001.7L1318.8,1336.6M1500.1,995.5L1315.3,1342.8M1503.8,989.9L1311.6,1348.4M1506.9,984.4L1308.5,1353.9M1509.7,979.6L1305.7,1358.7M1513.1,974.9L1302.3,1363.4M1515.9,969.9L1299.5,1368.4M1518.4,966L1297,1372.3M1521.7,962L1293.7,1376.3M1523.3,958.6L1292.1,1379.7M1526.6,954.9L1288.8,1383.4M1528.4,951.5L1287,1386.8M1530.8,948.2L1284.6,1390.1M1532.7,945.3L1282.7,1393M1534.8,942.1L1280.6,1396.2M1536.1,940.6L1279.3,1397.7M1538.3,938.1L1277.1,1400.2M1540.1,935.3L1275.3,1403M1541.3,933.8L1274.1,1404.5M1544.1,931.2L1271.3,1407.1M1545.5,929.6L1269.9,1408.7M1545.9,928.3L1269.5,1410M1548.5,926L1266.9,1412.3M1549.5,924.9L1265.9,1413.4M1550.2,923.6L1265.2,1414.7M1551.6,923.4L1263.8,1414.9M1552.6,921.9L1262.8,1416.4M1553.5,921.7L1261.9,1416.6M1554.8,920.1L1260.6,1418.2M1556.1,920.2L1259.3,1418.1M1557.1,918.9L1258.3,1419.4M1557.1,919.3L1258.3,1419M1558.7,918.4L1256.7,1419.9M1558.5,918.6L1256.9,1419.7M1559.2,918.6L1256.2,1419.7M1559,918.9L1256.4,1419.4M1559.5,918.8L1255.9,1419.5"/>
<path stroke="#4262E2" d="M1404.3,1170.4L1411.1,1167.9M1352.6,1189.5L1462.8,1148.8M1330.2,1197.5L1485.2,1140.8M1313.3,1203.3L1502.1,1135M1299.4,1208.6L1516,1129.7M1286.8,1212.7L1528.6,1125.6M1276.2,1216.2L1539.2,1122.1M1266.1,1219.6L1549.3,1118.7M1256.7,1222.8L1558.7,1115.5M1249.4,1225.2L1566,1113.1M1241.2,1227.6L1574.2,1110.7M1233.7,1229.7L1581.7,1108.6M1226.9,1231.9L1588.5,1106.4M1221.4,1233.1L1594,1105.2M1214.5,1235.2L1600.9,1103.1M1209.3,1236.9L1606.1,1101.4M1203.7,1238.2L1611.7,1100.1M1198.7,1240.1L1616.7,1098.2M1193.6,1241.2L1621.8,1097.1M1189.4,1242L1626,1096.3M1185.3,1242.8L1630.1,1095.5M1181.8,1243.2L1633.6,1095.1M1177.9,1245L1637.5,1093.3M1174.3,1245.2L1641.1,1093.1M1170.1,1245.6L1645.3,1092.7M1167.3,1246.4L1648.1,1091.9M1163.5,1247.7L1651.9,1090.6M1161.4,1247.3L1654,1091M1158.4,1248.3L1657,1090M1154.8,1248.7L1660.6,1089.6M1154.1,1248.9L1661.3,1089.4M1150.2,1249.5L1665.2,1088.8M1149.5,1249L1665.9,1089.3M1146.8,1249.8L1668.6,1088.5M1144.2,1249.4L1671.2,1088.9M1143.8,1249.6L1671.6,1088.7M1141.2,1249.8L1674.2,1088.5M1140.5,1249.6L1674.9,1088.7M1138.9,1248.9L1676.5,1089.4M1136.9,1250.1L1678.5,1088.2M1135.9,1249.3L1679.5,1089M1135,1249.3L1680.4,1089M1135.2,1248.5L1680.2,1089.8M1134.4,1248.2L1681,1090.1M1133.5,1248.5L1681.9,1089.8M1133.1,1247.7L1682.3,1090.6M1132.5,1247.7L1682.9,1090.6M1131.8,1247.2L1683.6,1091.1"/>
<path stroke="#1E8C8C" d="M1411,1170.6L1404.4,1167.7M1461.7,1193.1L1353.7,1145.2M1483.5,1202.8L1331.9,1135.5M1500.1,1210.2L1315.3,1128.1M1513.5,1216.8L1301.9,1121.5M1525.4,1222.4L1290,1115.9M1535.7,1226.7L1279.7,1111.6M1544.7,1231.6L1270.7,1106.7M1553.2,1235.3L1262.2,1103M1561.2,1239.8L1254.2,1098.5M1569.1,1243.2L1246.3,1095.1M1575.3,1246.2L1240.1,1092.1M1582.1,1249.9L1233.3,1088.4M1586.9,1252.5L1228.5,1085.8M1592.3,1255.9L1223.1,1082.4M1597.5,1258.1L1217.9,1080.2M1603.5,1261.2L1211.9,1077.1M1607.9,1264.1L1207.5,1074.2M1610.9,1266.2L1204.5,1072.1M1616.2,1269.2L1199.2,1069.1M1620.4,1271.1L1195,1067.2M1622.9,1273.3L1192.5,1065M1625.6,1275.4L1189.8,1062.9M1629.4,1276.9L1186,1061.4M1633.2,1279.9L1182.2,1058.4M1635.8,1281.4L1179.6,1056.9M1637.8,1282.2L1177.6,1056.1M1641.2,1285.3L1174.2,1053M1642.3,1286L1173.1,1052.3M1645,1287.1L1170.4,1051.2M1647.4,1288.8L1168,1049.5M1648.7,1290.7L1166.7,1047.6M1651.3,1292.3L1164.1,1046M1653,1293.6L1162.4,1044.7M1654.6,1294.9L1160.8,1043.4M1655.9,1296.2L1159.5,1042.1M1655.7,1296.9L1159.7,1041.4M1658.2,1298.2L1157.2,1040.1M1657.8,1299.3L1157.6,1039M1659.2,1299.5L1156.2,1038.8M1660.2,1301.3L1155.2,1037M1660.7,1302.5L1154.7,1035.8M1661.3,1302.5L1154.1,1035.8M1660.8,1303.3L1154.6,1035M1660.6,1304.1L1154.8,1034.2M1660.4,1304.3L1155,1034M1661.3,1305.1L1154.1,1033.2M1661.2,1305.5L1154.2,1032.8"/>
<path stroke="#5CF244" d="M1406.2,1165.7L1409.2,1172.6M1383.5,1113.9L1431.9,1224.4M1373.5,1091.1L1441.9,1247.2M1366.6,1074.2L1448.8,1264.1M1360.6,1059.7L1454.8,1278.6M1355.5,1047.8L1459.9,1290.5M1350.8,1036.7L1464.6,1301.6M1347,1026.4L1468.4,1311.9M1343.8,1018.1L1471.6,1320.2M1340.3,1009.8L1475.1,1328.5M1337.4,1001.8L1478,1336.5M1334.6,994.3L1480.8,1344M1332.1,988.1L1483.3,1350.2M1329.3,980.9L1486.1,1357.4M1327.6,975.8L1487.8,1362.5M1325.6,969.3L1489.8,1369M1323.6,963.5L1491.8,1374.8M1321.8,959.1L1493.6,1379.2M1320,954L1495.4,1384.3M1318.6,948.8L1496.8,1389.5M1317.7,945.8L1497.7,1392.5M1316.9,941.5L1498.5,1396.8M1314.9,936.5L1500.5,1401.8M1314.9,933.8L1500.5,1404.5M1312.5,929.5L1502.9,1408.8M1311.7,926L1503.7,1412.3M1312,923.4L1503.4,1414.9M1310.9,920.5L1504.5,1417.8M1310.2,917.4L1505.2,1420.9M1310.1,914.8L1505.3,1423.5M1309.4,911.9L1506,1426.4M1308.2,910.1L1507.2,1428.2M1307.8,907.6L1507.6,1430.7M1308.5,906.1L1506.9,1432.2M1307.8,903.5L1507.6,1434.8M1307.1,901.6L1508.3,1436.7M1306.7,899.7L1508.7,1438.6M1307.4,899.6L1508,1438.7M1307.5,897.7L1507.9,1440.6M1307,895.8L1508.4,1442.5M1307.5,894.1L1507.9,1444.2M1307.8,893.4L1507.6,1444.9M1307.6,892.9L1507.8,1445.4M1308,893.4L1507.4,1444.9M1308.1,892.1L1507.3,1446.2M1309,890.9L1506.4,1447.4M1309.1,890.7L1506.3,1447.6M1309.2,891.2L1506.2,1447.1"/>
<path stroke="#8A1A32" d="M1406.6,1172.7L1408.8,1165.6M1389.7,1227L1425.7,1111.3M1382,1250.4L1433.4,1087.9M1376.3,1268.1L1439.1,1070.2M1371.8,1282.9L1443.6,1055.4M1367.3,1295.9L1448.1,1042.4M1363.4,1306.6L1452,1031.7M1360,1317.2L1455.4,1021.1M1356.7,1325.4L1458.7,1012.9M1353.9,1334.4L1461.5,1003.9M1350.6,1342.2L1464.8,996.1M1348.3,1350.2L1467.1,988.1M1345.6,1356.8L1469.8,981.5M1342.9,1362.4L1472.5,975.9M1341.1,1369L1474.3,969.3M1338.9,1374.3L1476.5,964M1336.6,1380.2L1478.8,958.1M1334.1,1384.4L1481.3,953.9M1332.7,1389.2L1482.7,949.1M1330.8,1393L1484.6,945.3M1328.7,1398.1L1486.7,940.2M1327.6,1401L1487.8,937.3M1324.8,1405.2L1490.6,933.1M1323.7,1409.7L1491.7,928.6M1322.3,1411.5L1493.1,926.8M1320.8,1414.4L1494.6,923.9M1318.9,1418.3L1496.5,920M1317.4,1420.9L1498,917.4M1316.6,1422.4L1498.8,915.9M1315.5,1425L1499.9,913.3M1313.9,1427.7L1501.5,910.6M1312.3,1430.5L1503.1,907.8M1311.9,1431.7L1503.5,906.6M1310.2,1434.1L1505.2,904.2M1308.9,1435.7L1506.5,902.6M1308.6,1436.6L1506.8,901.7M1306.5,1438.7L1508.9,899.6M1306,1439.7L1509.4,898.6M1305,1441L1510.4,897.3M1304.4,1440.5L1511,897.8M1303.1,1441.5L1512.3,896.8M1302.4,1442.3L1513,896M1301.7,1443.4L1513.7,894.9M1301.4,1443.4L1514,894.9M1301.4,1443L1514,895.3M1300.1,1443.1L1515.3,895.2M1300.2,1443.2L1515.2,895.1M1299.2,1443.9L1516.2,894.4"/>
<path stroke="#E012D2" d="M1410.8,1167.3L1404.6,1171M1458.7,1139.1L1356.7,1199.2M1479.4,1127.3L1336,1211M1495.4,1118.1L1320,1220.2M1507.9,1111L1307.5,1227.3M1519.4,1104.5L1296,1233.8M1529.5,1098.6L1285.9,1239.7M1538.9,1093.8L1276.5,1244.5M1546.6,1089.3L1268.8,1249M1554.5,1085.7L1260.9,1252.6M1561.7,1081.3L1253.7,1257M1569.1,1078L1246.3,1260.3M1575.3,1074.8L1240.1,1263.5M1580.6,1071.8L1234.8,1266.5M1586.1,1069.3L1229.3,1269M1591.9,1066.8L1223.5,1271.5M1597.2,1063.4L1218.2,1274.9M1601.8,1061.8L1213.6,1276.5M1605.8,1060.4L1209.6,1277.9M1610.4,1057.4L1205,1280.9M1614.3,1055.7L1201.1,1282.6M1617.8,1055.1L1197.6,1283.2M1621.5,1052.8L1193.9,1285.5M1625.1,1051.4L1190.3,1286.9M1628.5,1050.6L1186.9,1287.7M1631,1049.7L1184.4,1288.6M1635.4,1047.5L1180,1290.8M1637.2,1046.9L1178.2,1291.4M1640.4,1046L1175,1292.3M1643,1045.6L1172.4,1292.7M1645.5,1044.3L1169.9,1294M1647,1043.5L1168.4,1294.8M1649.1,1042.9L1166.3,1295.4M1651.9,1042.9L1163.5,1295.4M1652.6,1043L1162.8,1295.3M1655.8,1041.9L1159.6,1296.4M1656.6,1041.7L1158.8,1296.6M1657.9,1041.6L1157.5,1296.7M1659.8,1040.4L1155.6,1297.9M1660.5,1041.7L1154.9,1296.6M1661.8,1040.6L1153.6,1297.7M1662.2,1042L1153.2,1296.3M1663.2,1041.7L1152.2,1296.6M1664.2,1041.8L1151.2,1296.5M1663.7,1042L1151.7,1296.3M1665.4,1042.5L1150,1295.8M1665.1,1042.9L1150.3,1295.4M1664.8,1043.2L1150.6,1295.1"/>
</g>
<path class="ax2" d="M1121,870.9V1467.4H1694.4"/>
<path class="tk2" d="M1121,870.9h6M1121,1169.2h6M1121,1467.4h6M1121,1467.4v-6M1407.7,1467.4v-6M1694.4,1467.4v-6"/>
<text class="tl" x="1110.8" y="882.1" text-anchor="end">0.5</text>
<text class="tl" x="1110.8" y="1180.4" text-anchor="end">0</text>
<text class="tl" x="1110.8" y="1478.6" text-anchor="end">-0.5</text>
<text class="tl" x="1121" y="1505" text-anchor="middle">-0.5</text>
<text class="tl" x="1407.7" y="1505" text-anchor="middle">0</text>
<text class="tl" x="1694.4" y="1505" text-anchor="middle">0.5</text>
<text class="al" x="1407.7" y="1542.2" text-anchor="middle">kx</text>
<text class="al" text-anchor="middle" transform="translate(1051.5,1168.9) rotate(-90)">ky</text>
</svg></body></html>
